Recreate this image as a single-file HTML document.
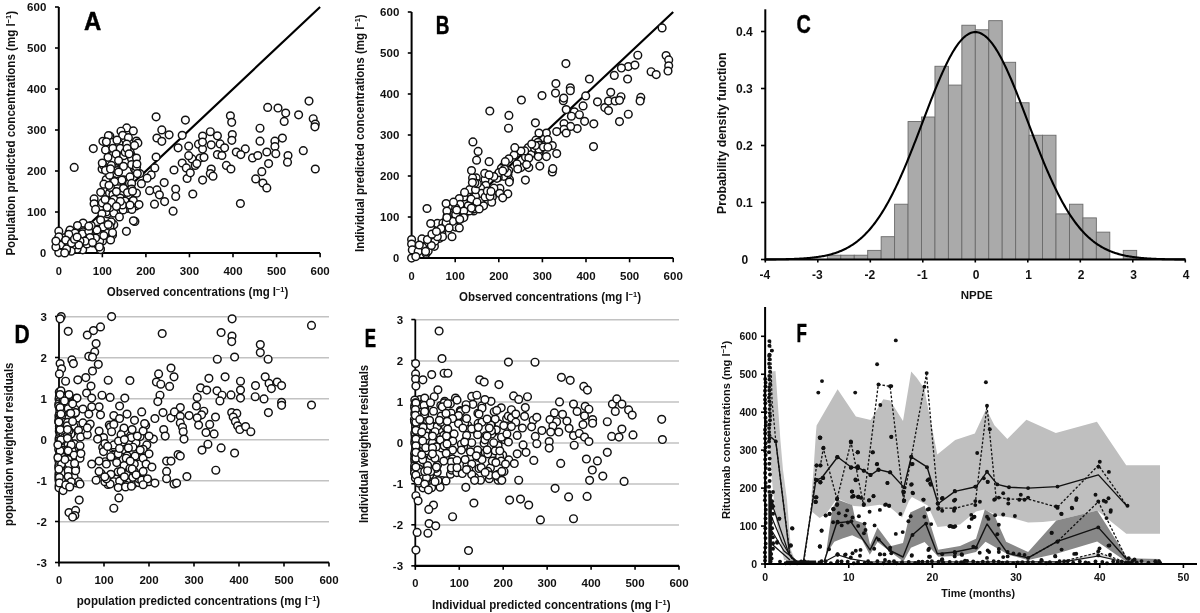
<!DOCTYPE html>
<html><head><meta charset="utf-8"><style>
html,body{margin:0;padding:0;background:#fff;}
svg{display:block;filter:blur(0.35px);}
text{font-family:"Liberation Sans",sans-serif;}
</style></head><body>
<svg width="1200" height="613" viewBox="0 0 1200 613">
<rect width="1200" height="613" fill="#fff"/>
<line x1="58.80" y1="7.00" x2="58.80" y2="253.75" stroke="#000" stroke-width="2.0" />
<line x1="58.05" y1="253.00" x2="320.10" y2="253.00" stroke="#000" stroke-width="2.0" />
<line x1="55.00" y1="253.00" x2="58.80" y2="253.00" stroke="#000" stroke-width="1.6" />
<text x="46.30" y="257.00" font-size="11.5" text-anchor="end" font-weight="bold" fill="#111" textLength="6.2" lengthAdjust="spacingAndGlyphs" >0</text>
<line x1="58.80" y1="253.00" x2="58.80" y2="257.30" stroke="#000" stroke-width="1.6" />
<text x="58.80" y="274.50" font-size="11.5" text-anchor="middle" font-weight="bold" fill="#111" textLength="6.2" lengthAdjust="spacingAndGlyphs" >0</text>
<line x1="55.00" y1="212.00" x2="58.80" y2="212.00" stroke="#000" stroke-width="1.6" />
<text x="46.30" y="216.00" font-size="11.5" text-anchor="end" font-weight="bold" fill="#111" textLength="19.2" lengthAdjust="spacingAndGlyphs" >100</text>
<line x1="102.35" y1="253.00" x2="102.35" y2="257.30" stroke="#000" stroke-width="1.6" />
<text x="102.35" y="274.50" font-size="11.5" text-anchor="middle" font-weight="bold" fill="#111" textLength="19.2" lengthAdjust="spacingAndGlyphs" >100</text>
<line x1="55.00" y1="171.00" x2="58.80" y2="171.00" stroke="#000" stroke-width="1.6" />
<text x="46.30" y="175.00" font-size="11.5" text-anchor="end" font-weight="bold" fill="#111" textLength="19.2" lengthAdjust="spacingAndGlyphs" >200</text>
<line x1="145.90" y1="253.00" x2="145.90" y2="257.30" stroke="#000" stroke-width="1.6" />
<text x="145.90" y="274.50" font-size="11.5" text-anchor="middle" font-weight="bold" fill="#111" textLength="19.2" lengthAdjust="spacingAndGlyphs" >200</text>
<line x1="55.00" y1="130.00" x2="58.80" y2="130.00" stroke="#000" stroke-width="1.6" />
<text x="46.30" y="134.00" font-size="11.5" text-anchor="end" font-weight="bold" fill="#111" textLength="19.2" lengthAdjust="spacingAndGlyphs" >300</text>
<line x1="189.45" y1="253.00" x2="189.45" y2="257.30" stroke="#000" stroke-width="1.6" />
<text x="189.45" y="274.50" font-size="11.5" text-anchor="middle" font-weight="bold" fill="#111" textLength="19.2" lengthAdjust="spacingAndGlyphs" >300</text>
<line x1="55.00" y1="89.00" x2="58.80" y2="89.00" stroke="#000" stroke-width="1.6" />
<text x="46.30" y="93.00" font-size="11.5" text-anchor="end" font-weight="bold" fill="#111" textLength="19.2" lengthAdjust="spacingAndGlyphs" >400</text>
<line x1="233.00" y1="253.00" x2="233.00" y2="257.30" stroke="#000" stroke-width="1.6" />
<text x="233.00" y="274.50" font-size="11.5" text-anchor="middle" font-weight="bold" fill="#111" textLength="19.2" lengthAdjust="spacingAndGlyphs" >400</text>
<line x1="55.00" y1="48.00" x2="58.80" y2="48.00" stroke="#000" stroke-width="1.6" />
<text x="46.30" y="52.00" font-size="11.5" text-anchor="end" font-weight="bold" fill="#111" textLength="19.2" lengthAdjust="spacingAndGlyphs" >500</text>
<line x1="276.55" y1="253.00" x2="276.55" y2="257.30" stroke="#000" stroke-width="1.6" />
<text x="276.55" y="274.50" font-size="11.5" text-anchor="middle" font-weight="bold" fill="#111" textLength="19.2" lengthAdjust="spacingAndGlyphs" >500</text>
<line x1="55.00" y1="7.00" x2="58.80" y2="7.00" stroke="#000" stroke-width="1.6" />
<text x="46.30" y="11.00" font-size="11.5" text-anchor="end" font-weight="bold" fill="#111" textLength="19.2" lengthAdjust="spacingAndGlyphs" >600</text>
<line x1="320.10" y1="253.00" x2="320.10" y2="257.30" stroke="#000" stroke-width="1.6" />
<text x="320.10" y="274.50" font-size="11.5" text-anchor="middle" font-weight="bold" fill="#111" textLength="19.2" lengthAdjust="spacingAndGlyphs" >600</text>
<text x="106.70" y="295.50" font-size="12.5" text-anchor="start" font-weight="bold" fill="#111" textLength="181.6" lengthAdjust="spacingAndGlyphs" >Observed concentrations (mg  l<tspan font-size="8" dy="-4">−1</tspan><tspan dy="4">)</tspan></text>
<text x="15.40" y="255.60" font-size="12.5" text-anchor="start" font-weight="bold" fill="#111" textLength="244.7" lengthAdjust="spacingAndGlyphs" transform="rotate(-90 15.40 255.60)" >Population  predicted  concentrations  (mg  l<tspan font-size="8" dy="-4">−1</tspan><tspan dy="4">)</tspan></text>
<line x1="411.60" y1="12.00" x2="411.60" y2="258.75" stroke="#000" stroke-width="2.0" />
<line x1="410.85" y1="258.00" x2="673.20" y2="258.00" stroke="#000" stroke-width="2.0" />
<line x1="407.80" y1="258.00" x2="411.60" y2="258.00" stroke="#000" stroke-width="1.6" />
<text x="399.30" y="262.00" font-size="11.5" text-anchor="end" font-weight="bold" fill="#111" textLength="6.2" lengthAdjust="spacingAndGlyphs" >0</text>
<line x1="411.60" y1="258.00" x2="411.60" y2="262.30" stroke="#000" stroke-width="1.6" />
<text x="411.60" y="279.50" font-size="11.5" text-anchor="middle" font-weight="bold" fill="#111" textLength="6.2" lengthAdjust="spacingAndGlyphs" >0</text>
<line x1="407.80" y1="217.00" x2="411.60" y2="217.00" stroke="#000" stroke-width="1.6" />
<text x="399.30" y="221.00" font-size="11.5" text-anchor="end" font-weight="bold" fill="#111" textLength="19.2" lengthAdjust="spacingAndGlyphs" >100</text>
<line x1="455.20" y1="258.00" x2="455.20" y2="262.30" stroke="#000" stroke-width="1.6" />
<text x="455.20" y="279.50" font-size="11.5" text-anchor="middle" font-weight="bold" fill="#111" textLength="19.2" lengthAdjust="spacingAndGlyphs" >100</text>
<line x1="407.80" y1="176.00" x2="411.60" y2="176.00" stroke="#000" stroke-width="1.6" />
<text x="399.30" y="180.00" font-size="11.5" text-anchor="end" font-weight="bold" fill="#111" textLength="19.2" lengthAdjust="spacingAndGlyphs" >200</text>
<line x1="498.80" y1="258.00" x2="498.80" y2="262.30" stroke="#000" stroke-width="1.6" />
<text x="498.80" y="279.50" font-size="11.5" text-anchor="middle" font-weight="bold" fill="#111" textLength="19.2" lengthAdjust="spacingAndGlyphs" >200</text>
<line x1="407.80" y1="135.00" x2="411.60" y2="135.00" stroke="#000" stroke-width="1.6" />
<text x="399.30" y="139.00" font-size="11.5" text-anchor="end" font-weight="bold" fill="#111" textLength="19.2" lengthAdjust="spacingAndGlyphs" >300</text>
<line x1="542.40" y1="258.00" x2="542.40" y2="262.30" stroke="#000" stroke-width="1.6" />
<text x="542.40" y="279.50" font-size="11.5" text-anchor="middle" font-weight="bold" fill="#111" textLength="19.2" lengthAdjust="spacingAndGlyphs" >300</text>
<line x1="407.80" y1="94.00" x2="411.60" y2="94.00" stroke="#000" stroke-width="1.6" />
<text x="399.30" y="98.00" font-size="11.5" text-anchor="end" font-weight="bold" fill="#111" textLength="19.2" lengthAdjust="spacingAndGlyphs" >400</text>
<line x1="586.00" y1="258.00" x2="586.00" y2="262.30" stroke="#000" stroke-width="1.6" />
<text x="586.00" y="279.50" font-size="11.5" text-anchor="middle" font-weight="bold" fill="#111" textLength="19.2" lengthAdjust="spacingAndGlyphs" >400</text>
<line x1="407.80" y1="53.00" x2="411.60" y2="53.00" stroke="#000" stroke-width="1.6" />
<text x="399.30" y="57.00" font-size="11.5" text-anchor="end" font-weight="bold" fill="#111" textLength="19.2" lengthAdjust="spacingAndGlyphs" >500</text>
<line x1="629.60" y1="258.00" x2="629.60" y2="262.30" stroke="#000" stroke-width="1.6" />
<text x="629.60" y="279.50" font-size="11.5" text-anchor="middle" font-weight="bold" fill="#111" textLength="19.2" lengthAdjust="spacingAndGlyphs" >500</text>
<line x1="407.80" y1="12.00" x2="411.60" y2="12.00" stroke="#000" stroke-width="1.6" />
<text x="399.30" y="16.00" font-size="11.5" text-anchor="end" font-weight="bold" fill="#111" textLength="19.2" lengthAdjust="spacingAndGlyphs" >600</text>
<line x1="673.20" y1="258.00" x2="673.20" y2="262.30" stroke="#000" stroke-width="1.6" />
<text x="673.20" y="279.50" font-size="11.5" text-anchor="middle" font-weight="bold" fill="#111" textLength="19.2" lengthAdjust="spacingAndGlyphs" >600</text>
<text x="459.00" y="300.50" font-size="12.5" text-anchor="start" font-weight="bold" fill="#111" textLength="182.0" lengthAdjust="spacingAndGlyphs" >Observed concentrations (mg  l<tspan font-size="8" dy="-4">−1</tspan><tspan dy="4">)</tspan></text>
<text x="363.70" y="252.00" font-size="12.5" text-anchor="start" font-weight="bold" fill="#111" textLength="237.7" lengthAdjust="spacingAndGlyphs" transform="rotate(-90 363.70 252.00)" >Individual  predicted concentrations  (mg  l<tspan font-size="8" dy="-4">−1</tspan><tspan dy="4">)</tspan></text>
<rect x="827.35" y="255.22" width="13.45" height="4.28" fill="#aaaaaa" stroke="#6a6a6a" stroke-width="0.9"/>
<rect x="840.80" y="255.22" width="13.45" height="4.28" fill="#aaaaaa" stroke="#6a6a6a" stroke-width="0.9"/>
<rect x="854.25" y="255.22" width="13.45" height="4.28" fill="#aaaaaa" stroke="#6a6a6a" stroke-width="0.9"/>
<rect x="867.70" y="250.38" width="13.45" height="9.12" fill="#aaaaaa" stroke="#6a6a6a" stroke-width="0.9"/>
<rect x="881.15" y="236.70" width="13.45" height="22.80" fill="#aaaaaa" stroke="#6a6a6a" stroke-width="0.9"/>
<rect x="894.60" y="204.21" width="13.45" height="55.29" fill="#aaaaaa" stroke="#6a6a6a" stroke-width="0.9"/>
<rect x="908.05" y="121.56" width="13.45" height="137.94" fill="#aaaaaa" stroke="#6a6a6a" stroke-width="0.9"/>
<rect x="921.50" y="117.00" width="13.45" height="142.50" fill="#aaaaaa" stroke="#6a6a6a" stroke-width="0.9"/>
<rect x="934.95" y="66.27" width="13.45" height="193.23" fill="#aaaaaa" stroke="#6a6a6a" stroke-width="0.9"/>
<rect x="948.40" y="85.08" width="13.45" height="174.42" fill="#aaaaaa" stroke="#6a6a6a" stroke-width="0.9"/>
<rect x="961.85" y="25.23" width="13.45" height="234.27" fill="#aaaaaa" stroke="#6a6a6a" stroke-width="0.9"/>
<rect x="975.30" y="29.79" width="13.45" height="229.71" fill="#aaaaaa" stroke="#6a6a6a" stroke-width="0.9"/>
<rect x="988.75" y="20.67" width="13.45" height="238.83" fill="#aaaaaa" stroke="#6a6a6a" stroke-width="0.9"/>
<rect x="1002.20" y="62.28" width="13.45" height="197.22" fill="#aaaaaa" stroke="#6a6a6a" stroke-width="0.9"/>
<rect x="1015.65" y="102.75" width="13.45" height="156.75" fill="#aaaaaa" stroke="#6a6a6a" stroke-width="0.9"/>
<rect x="1029.10" y="135.24" width="13.45" height="124.26" fill="#aaaaaa" stroke="#6a6a6a" stroke-width="0.9"/>
<rect x="1042.55" y="135.24" width="13.45" height="124.26" fill="#aaaaaa" stroke="#6a6a6a" stroke-width="0.9"/>
<rect x="1056.00" y="213.90" width="13.45" height="45.60" fill="#aaaaaa" stroke="#6a6a6a" stroke-width="0.9"/>
<rect x="1069.45" y="204.21" width="13.45" height="55.29" fill="#aaaaaa" stroke="#6a6a6a" stroke-width="0.9"/>
<rect x="1082.90" y="217.89" width="13.45" height="41.61" fill="#aaaaaa" stroke="#6a6a6a" stroke-width="0.9"/>
<rect x="1096.35" y="232.14" width="13.45" height="27.36" fill="#aaaaaa" stroke="#6a6a6a" stroke-width="0.9"/>
<rect x="1123.25" y="250.38" width="13.45" height="9.12" fill="#aaaaaa" stroke="#6a6a6a" stroke-width="0.9"/>
<polyline points="765.30,259.42 766.35,259.42 767.40,259.41 768.45,259.40 769.50,259.40 770.55,259.39 771.60,259.38 772.65,259.37 773.70,259.36 774.75,259.35 775.80,259.33 776.85,259.32 777.90,259.31 778.95,259.29 780.00,259.28 781.05,259.26 782.10,259.24 783.15,259.22 784.20,259.20 785.25,259.18 786.30,259.15 787.35,259.13 788.40,259.10 789.45,259.07 790.50,259.04 791.55,259.00 792.60,258.97 793.65,258.93 794.70,258.89 795.75,258.84 796.80,258.80 797.85,258.75 798.90,258.70 799.95,258.64 801.00,258.58 802.05,258.52 803.10,258.45 804.15,258.38 805.20,258.31 806.25,258.23 807.30,258.14 808.35,258.05 809.40,257.96 810.45,257.86 811.50,257.75 812.55,257.64 813.60,257.52 814.65,257.39 815.70,257.26 816.75,257.12 817.80,256.97 818.85,256.82 819.90,256.65 820.95,256.48 822.00,256.30 823.05,256.11 824.10,255.91 825.15,255.69 826.20,255.47 827.25,255.23 828.30,254.99 829.35,254.73 830.40,254.46 831.45,254.17 832.50,253.87 833.55,253.56 834.60,253.23 835.65,252.89 836.70,252.53 837.75,252.15 838.80,251.76 839.85,251.35 840.90,250.92 841.95,250.47 843.00,250.00 844.05,249.51 845.10,249.00 846.15,248.47 847.20,247.91 848.25,247.34 849.30,246.74 850.35,246.11 851.40,245.46 852.45,244.78 853.50,244.08 854.55,243.35 855.60,242.60 856.65,241.81 857.70,241.00 858.75,240.15 859.80,239.28 860.85,238.37 861.90,237.44 862.95,236.47 864.00,235.47 865.05,234.43 866.10,233.36 867.15,232.25 868.20,231.11 869.25,229.94 870.30,228.73 871.35,227.48 872.40,226.19 873.45,224.86 874.50,223.50 875.55,222.10 876.60,220.66 877.65,219.18 878.70,217.66 879.75,216.10 880.80,214.50 881.85,212.86 882.90,211.18 883.95,209.46 885.00,207.69 886.05,205.89 887.10,204.05 888.15,202.17 889.20,200.24 890.25,198.28 891.30,196.28 892.35,194.23 893.40,192.15 894.45,190.03 895.50,187.87 896.55,185.67 897.60,183.44 898.65,181.17 899.70,178.87 900.75,176.53 901.80,174.16 902.85,171.75 903.90,169.31 904.95,166.84 906.00,164.35 907.05,161.82 908.10,159.27 909.15,156.69 910.20,154.09 911.25,151.46 912.30,148.81 913.35,146.15 914.40,143.46 915.45,140.76 916.50,138.05 917.55,135.32 918.60,132.59 919.65,129.84 920.70,127.09 921.75,124.33 922.80,121.58 923.85,118.82 924.90,116.06 925.95,113.31 927.00,110.57 928.05,107.83 929.10,105.11 930.15,102.40 931.20,99.70 932.25,97.03 933.30,94.38 934.35,91.75 935.40,89.14 936.45,86.57 937.50,84.02 938.55,81.52 939.60,79.04 940.65,76.61 941.70,74.21 942.75,71.87 943.80,69.56 944.85,67.31 945.90,65.10 946.95,62.95 948.00,60.86 949.05,58.82 950.10,56.85 951.15,54.93 952.20,53.08 953.25,51.30 954.30,49.59 955.35,47.94 956.40,46.37 957.45,44.87 958.50,43.45 959.55,42.11 960.60,40.84 961.65,39.66 962.70,38.56 963.75,37.54 964.80,36.61 965.85,35.76 966.90,35.00 967.95,34.32 969.00,33.73 970.05,33.24 971.10,32.83 972.15,32.51 973.20,32.28 974.25,32.15 975.30,32.10 976.35,32.15 977.40,32.28 978.45,32.51 979.50,32.83 980.55,33.24 981.60,33.73 982.65,34.32 983.70,35.00 984.75,35.76 985.80,36.61 986.85,37.54 987.90,38.56 988.95,39.66 990.00,40.84 991.05,42.11 992.10,43.45 993.15,44.87 994.20,46.37 995.25,47.94 996.30,49.59 997.35,51.30 998.40,53.08 999.45,54.93 1000.50,56.85 1001.55,58.82 1002.60,60.86 1003.65,62.95 1004.70,65.10 1005.75,67.31 1006.80,69.56 1007.85,71.87 1008.90,74.21 1009.95,76.61 1011.00,79.04 1012.05,81.52 1013.10,84.02 1014.15,86.57 1015.20,89.14 1016.25,91.75 1017.30,94.38 1018.35,97.03 1019.40,99.70 1020.45,102.40 1021.50,105.11 1022.55,107.83 1023.60,110.57 1024.65,113.31 1025.70,116.06 1026.75,118.82 1027.80,121.58 1028.85,124.33 1029.90,127.09 1030.95,129.84 1032.00,132.59 1033.05,135.32 1034.10,138.05 1035.15,140.76 1036.20,143.46 1037.25,146.15 1038.30,148.81 1039.35,151.46 1040.40,154.09 1041.45,156.69 1042.50,159.27 1043.55,161.82 1044.60,164.35 1045.65,166.84 1046.70,169.31 1047.75,171.75 1048.80,174.16 1049.85,176.53 1050.90,178.87 1051.95,181.17 1053.00,183.44 1054.05,185.67 1055.10,187.87 1056.15,190.03 1057.20,192.15 1058.25,194.23 1059.30,196.28 1060.35,198.28 1061.40,200.24 1062.45,202.17 1063.50,204.05 1064.55,205.89 1065.60,207.69 1066.65,209.46 1067.70,211.18 1068.75,212.86 1069.80,214.50 1070.85,216.10 1071.90,217.66 1072.95,219.18 1074.00,220.66 1075.05,222.10 1076.10,223.50 1077.15,224.86 1078.20,226.19 1079.25,227.48 1080.30,228.73 1081.35,229.94 1082.40,231.11 1083.45,232.25 1084.50,233.36 1085.55,234.43 1086.60,235.47 1087.65,236.47 1088.70,237.44 1089.75,238.37 1090.80,239.28 1091.85,240.15 1092.90,241.00 1093.95,241.81 1095.00,242.60 1096.05,243.35 1097.10,244.08 1098.15,244.78 1099.20,245.46 1100.25,246.11 1101.30,246.74 1102.35,247.34 1103.40,247.91 1104.45,248.47 1105.50,249.00 1106.55,249.51 1107.60,250.00 1108.65,250.47 1109.70,250.92 1110.75,251.35 1111.80,251.76 1112.85,252.15 1113.90,252.53 1114.95,252.89 1116.00,253.23 1117.05,253.56 1118.10,253.87 1119.15,254.17 1120.20,254.46 1121.25,254.73 1122.30,254.99 1123.35,255.23 1124.40,255.47 1125.45,255.69 1126.50,255.91 1127.55,256.11 1128.60,256.30 1129.65,256.48 1130.70,256.65 1131.75,256.82 1132.80,256.97 1133.85,257.12 1134.90,257.26 1135.95,257.39 1137.00,257.52 1138.05,257.64 1139.10,257.75 1140.15,257.86 1141.20,257.96 1142.25,258.05 1143.30,258.14 1144.35,258.23 1145.40,258.31 1146.45,258.38 1147.50,258.45 1148.55,258.52 1149.60,258.58 1150.65,258.64 1151.70,258.70 1152.75,258.75 1153.80,258.80 1154.85,258.84 1155.90,258.89 1156.95,258.93 1158.00,258.97 1159.05,259.00 1160.10,259.04 1161.15,259.07 1162.20,259.10 1163.25,259.13 1164.30,259.15 1165.35,259.18 1166.40,259.20 1167.45,259.22 1168.50,259.24 1169.55,259.26 1170.60,259.28 1171.65,259.29 1172.70,259.31 1173.75,259.32 1174.80,259.33 1175.85,259.35 1176.90,259.36 1177.95,259.37 1179.00,259.38 1180.05,259.39 1181.10,259.40 1182.15,259.40 1183.20,259.41 1184.25,259.42 1185.30,259.42" fill="none" stroke="#000" stroke-width="2.1"/>
<line x1="765.30" y1="9.30" x2="765.30" y2="260.30" stroke="#000" stroke-width="2.0" />
<line x1="764.50" y1="259.50" x2="1185.50" y2="259.50" stroke="#000" stroke-width="2.2" />
<line x1="761.00" y1="259.50" x2="765.30" y2="259.50" stroke="#000" stroke-width="1.6" />
<text x="748.20" y="263.80" font-size="12" text-anchor="end" font-weight="bold" fill="#111" >0</text>
<line x1="761.00" y1="202.50" x2="765.30" y2="202.50" stroke="#000" stroke-width="1.6" />
<text x="752.80" y="206.80" font-size="12" text-anchor="end" font-weight="bold" fill="#111" >0.1</text>
<line x1="761.00" y1="145.50" x2="765.30" y2="145.50" stroke="#000" stroke-width="1.6" />
<text x="752.80" y="149.80" font-size="12" text-anchor="end" font-weight="bold" fill="#111" >0.2</text>
<line x1="761.00" y1="88.50" x2="765.30" y2="88.50" stroke="#000" stroke-width="1.6" />
<text x="752.80" y="92.80" font-size="12" text-anchor="end" font-weight="bold" fill="#111" >0.3</text>
<line x1="761.00" y1="31.50" x2="765.30" y2="31.50" stroke="#000" stroke-width="1.6" />
<text x="752.80" y="35.80" font-size="12" text-anchor="end" font-weight="bold" fill="#111" >0.4</text>
<line x1="765.30" y1="259.50" x2="765.30" y2="262.50" stroke="#000" stroke-width="1.6" />
<text x="764.80" y="279.30" font-size="12" text-anchor="middle" font-weight="bold" fill="#111" >-4</text>
<line x1="817.80" y1="259.50" x2="817.80" y2="262.50" stroke="#000" stroke-width="1.6" />
<text x="817.30" y="279.30" font-size="12" text-anchor="middle" font-weight="bold" fill="#111" >-3</text>
<line x1="870.30" y1="259.50" x2="870.30" y2="262.50" stroke="#000" stroke-width="1.6" />
<text x="869.80" y="279.30" font-size="12" text-anchor="middle" font-weight="bold" fill="#111" >-2</text>
<line x1="922.80" y1="259.50" x2="922.80" y2="262.50" stroke="#000" stroke-width="1.6" />
<text x="922.30" y="279.30" font-size="12" text-anchor="middle" font-weight="bold" fill="#111" >-1</text>
<line x1="975.30" y1="259.50" x2="975.30" y2="262.50" stroke="#000" stroke-width="1.6" />
<text x="976.10" y="279.30" font-size="12" text-anchor="middle" font-weight="bold" fill="#111" >0</text>
<line x1="1027.80" y1="259.50" x2="1027.80" y2="262.50" stroke="#000" stroke-width="1.6" />
<text x="1028.60" y="279.30" font-size="12" text-anchor="middle" font-weight="bold" fill="#111" >1</text>
<line x1="1080.30" y1="259.50" x2="1080.30" y2="262.50" stroke="#000" stroke-width="1.6" />
<text x="1081.10" y="279.30" font-size="12" text-anchor="middle" font-weight="bold" fill="#111" >2</text>
<line x1="1132.80" y1="259.50" x2="1132.80" y2="262.50" stroke="#000" stroke-width="1.6" />
<text x="1133.60" y="279.30" font-size="12" text-anchor="middle" font-weight="bold" fill="#111" >3</text>
<line x1="1185.30" y1="259.50" x2="1185.30" y2="262.50" stroke="#000" stroke-width="1.6" />
<text x="1186.10" y="279.30" font-size="12" text-anchor="middle" font-weight="bold" fill="#111" >4</text>
<text x="976.70" y="298.70" font-size="11.5" text-anchor="middle" font-weight="bold" fill="#111" >NPDE</text>
<text x="726.50" y="213.90" font-size="12.5" text-anchor="start" font-weight="bold" fill="#111" textLength="161.3" lengthAdjust="spacingAndGlyphs" transform="rotate(-90 726.50 213.90)" >Probability  density  function</text>
<line x1="59.00" y1="521.80" x2="329.00" y2="521.80" stroke="#c2c2c2" stroke-width="1.5" />
<line x1="59.00" y1="480.80" x2="329.00" y2="480.80" stroke="#c2c2c2" stroke-width="1.5" />
<line x1="59.00" y1="439.80" x2="329.00" y2="439.80" stroke="#c2c2c2" stroke-width="1.5" />
<line x1="59.00" y1="398.80" x2="329.00" y2="398.80" stroke="#c2c2c2" stroke-width="1.5" />
<line x1="59.00" y1="357.80" x2="329.00" y2="357.80" stroke="#c2c2c2" stroke-width="1.5" />
<line x1="59.00" y1="316.80" x2="329.00" y2="316.80" stroke="#c2c2c2" stroke-width="1.5" />
<line x1="59.00" y1="316.50" x2="59.00" y2="563.30" stroke="#000" stroke-width="1.8" />
<line x1="58.20" y1="562.50" x2="329.00" y2="562.50" stroke="#000" stroke-width="2.2" />
<line x1="55.00" y1="562.50" x2="59.00" y2="562.50" stroke="#000" stroke-width="1.6" />
<text x="46.80" y="566.70" font-size="11.5" text-anchor="end" font-weight="bold" fill="#111" >-3</text>
<line x1="55.00" y1="521.50" x2="59.00" y2="521.50" stroke="#000" stroke-width="1.6" />
<text x="46.80" y="525.70" font-size="11.5" text-anchor="end" font-weight="bold" fill="#111" >-2</text>
<line x1="55.00" y1="480.50" x2="59.00" y2="480.50" stroke="#000" stroke-width="1.6" />
<text x="46.80" y="484.70" font-size="11.5" text-anchor="end" font-weight="bold" fill="#111" >-1</text>
<line x1="55.00" y1="439.50" x2="59.00" y2="439.50" stroke="#000" stroke-width="1.6" />
<text x="46.80" y="443.70" font-size="11.5" text-anchor="end" font-weight="bold" fill="#111" >0</text>
<line x1="55.00" y1="398.50" x2="59.00" y2="398.50" stroke="#000" stroke-width="1.6" />
<text x="46.80" y="402.70" font-size="11.5" text-anchor="end" font-weight="bold" fill="#111" >1</text>
<line x1="55.00" y1="357.50" x2="59.00" y2="357.50" stroke="#000" stroke-width="1.6" />
<text x="46.80" y="361.70" font-size="11.5" text-anchor="end" font-weight="bold" fill="#111" >2</text>
<line x1="55.00" y1="316.50" x2="59.00" y2="316.50" stroke="#000" stroke-width="1.6" />
<text x="46.80" y="320.70" font-size="11.5" text-anchor="end" font-weight="bold" fill="#111" >3</text>
<line x1="59.00" y1="562.50" x2="59.00" y2="566.50" stroke="#000" stroke-width="1.6" />
<text x="59.00" y="583.50" font-size="11.5" text-anchor="middle" font-weight="bold" fill="#111" textLength="6.2" lengthAdjust="spacingAndGlyphs" >0</text>
<line x1="104.00" y1="562.50" x2="104.00" y2="566.50" stroke="#000" stroke-width="1.6" />
<text x="104.00" y="583.50" font-size="11.5" text-anchor="middle" font-weight="bold" fill="#111" textLength="19.2" lengthAdjust="spacingAndGlyphs" >100</text>
<line x1="149.00" y1="562.50" x2="149.00" y2="566.50" stroke="#000" stroke-width="1.6" />
<text x="149.00" y="583.50" font-size="11.5" text-anchor="middle" font-weight="bold" fill="#111" textLength="19.2" lengthAdjust="spacingAndGlyphs" >200</text>
<line x1="194.00" y1="562.50" x2="194.00" y2="566.50" stroke="#000" stroke-width="1.6" />
<text x="194.00" y="583.50" font-size="11.5" text-anchor="middle" font-weight="bold" fill="#111" textLength="19.2" lengthAdjust="spacingAndGlyphs" >300</text>
<line x1="239.00" y1="562.50" x2="239.00" y2="566.50" stroke="#000" stroke-width="1.6" />
<text x="239.00" y="583.50" font-size="11.5" text-anchor="middle" font-weight="bold" fill="#111" textLength="19.2" lengthAdjust="spacingAndGlyphs" >400</text>
<line x1="284.00" y1="562.50" x2="284.00" y2="566.50" stroke="#000" stroke-width="1.6" />
<text x="284.00" y="583.50" font-size="11.5" text-anchor="middle" font-weight="bold" fill="#111" textLength="19.2" lengthAdjust="spacingAndGlyphs" >500</text>
<line x1="329.00" y1="562.50" x2="329.00" y2="566.50" stroke="#000" stroke-width="1.6" />
<text x="329.00" y="583.50" font-size="11.5" text-anchor="middle" font-weight="bold" fill="#111" textLength="19.2" lengthAdjust="spacingAndGlyphs" >600</text>
<text x="76.80" y="605.00" font-size="12.5" text-anchor="start" font-weight="bold" fill="#111" textLength="243.4" lengthAdjust="spacingAndGlyphs" >population  predicted  concentrations  (mg  l<tspan font-size="8" dy="-4">−1</tspan><tspan dy="4">)</tspan></text>
<text x="12.80" y="525.90" font-size="12.5" text-anchor="start" font-weight="bold" fill="#111" textLength="163.3" lengthAdjust="spacingAndGlyphs" transform="rotate(-90 12.80 525.90)" >population  weighted  residuals</text>
<line x1="415.30" y1="525.10" x2="679.00" y2="525.10" stroke="#c2c2c2" stroke-width="1.5" />
<line x1="415.30" y1="484.05" x2="679.00" y2="484.05" stroke="#c2c2c2" stroke-width="1.5" />
<line x1="415.30" y1="443.00" x2="679.00" y2="443.00" stroke="#c2c2c2" stroke-width="1.5" />
<line x1="415.30" y1="401.95" x2="679.00" y2="401.95" stroke="#c2c2c2" stroke-width="1.5" />
<line x1="415.30" y1="360.90" x2="679.00" y2="360.90" stroke="#c2c2c2" stroke-width="1.5" />
<line x1="415.30" y1="319.85" x2="679.00" y2="319.85" stroke="#c2c2c2" stroke-width="1.5" />
<line x1="415.30" y1="319.55" x2="415.30" y2="566.65" stroke="#000" stroke-width="1.8" />
<line x1="414.50" y1="565.85" x2="679.00" y2="565.85" stroke="#000" stroke-width="2.2" />
<line x1="411.30" y1="565.85" x2="415.30" y2="565.85" stroke="#000" stroke-width="1.6" />
<text x="403.10" y="570.05" font-size="11.5" text-anchor="end" font-weight="bold" fill="#111" >-3</text>
<line x1="411.30" y1="524.80" x2="415.30" y2="524.80" stroke="#000" stroke-width="1.6" />
<text x="403.10" y="529.00" font-size="11.5" text-anchor="end" font-weight="bold" fill="#111" >-2</text>
<line x1="411.30" y1="483.75" x2="415.30" y2="483.75" stroke="#000" stroke-width="1.6" />
<text x="403.10" y="487.95" font-size="11.5" text-anchor="end" font-weight="bold" fill="#111" >-1</text>
<line x1="411.30" y1="442.70" x2="415.30" y2="442.70" stroke="#000" stroke-width="1.6" />
<text x="403.10" y="446.90" font-size="11.5" text-anchor="end" font-weight="bold" fill="#111" >0</text>
<line x1="411.30" y1="401.65" x2="415.30" y2="401.65" stroke="#000" stroke-width="1.6" />
<text x="403.10" y="405.85" font-size="11.5" text-anchor="end" font-weight="bold" fill="#111" >1</text>
<line x1="411.30" y1="360.60" x2="415.30" y2="360.60" stroke="#000" stroke-width="1.6" />
<text x="403.10" y="364.80" font-size="11.5" text-anchor="end" font-weight="bold" fill="#111" >2</text>
<line x1="411.30" y1="319.55" x2="415.30" y2="319.55" stroke="#000" stroke-width="1.6" />
<text x="403.10" y="323.75" font-size="11.5" text-anchor="end" font-weight="bold" fill="#111" >3</text>
<line x1="415.30" y1="565.85" x2="415.30" y2="569.85" stroke="#000" stroke-width="1.6" />
<text x="415.30" y="587.00" font-size="11.5" text-anchor="middle" font-weight="bold" fill="#111" textLength="6.2" lengthAdjust="spacingAndGlyphs" >0</text>
<line x1="459.25" y1="565.85" x2="459.25" y2="569.85" stroke="#000" stroke-width="1.6" />
<text x="459.25" y="587.00" font-size="11.5" text-anchor="middle" font-weight="bold" fill="#111" textLength="19.2" lengthAdjust="spacingAndGlyphs" >100</text>
<line x1="503.20" y1="565.85" x2="503.20" y2="569.85" stroke="#000" stroke-width="1.6" />
<text x="503.20" y="587.00" font-size="11.5" text-anchor="middle" font-weight="bold" fill="#111" textLength="19.2" lengthAdjust="spacingAndGlyphs" >200</text>
<line x1="547.15" y1="565.85" x2="547.15" y2="569.85" stroke="#000" stroke-width="1.6" />
<text x="547.15" y="587.00" font-size="11.5" text-anchor="middle" font-weight="bold" fill="#111" textLength="19.2" lengthAdjust="spacingAndGlyphs" >300</text>
<line x1="591.10" y1="565.85" x2="591.10" y2="569.85" stroke="#000" stroke-width="1.6" />
<text x="591.10" y="587.00" font-size="11.5" text-anchor="middle" font-weight="bold" fill="#111" textLength="19.2" lengthAdjust="spacingAndGlyphs" >400</text>
<line x1="635.05" y1="565.85" x2="635.05" y2="569.85" stroke="#000" stroke-width="1.6" />
<text x="635.05" y="587.00" font-size="11.5" text-anchor="middle" font-weight="bold" fill="#111" textLength="19.2" lengthAdjust="spacingAndGlyphs" >500</text>
<line x1="679.00" y1="565.85" x2="679.00" y2="569.85" stroke="#000" stroke-width="1.6" />
<text x="679.00" y="587.00" font-size="11.5" text-anchor="middle" font-weight="bold" fill="#111" textLength="19.2" lengthAdjust="spacingAndGlyphs" >600</text>
<text x="432.00" y="608.80" font-size="12.5" text-anchor="start" font-weight="bold" fill="#111" textLength="238.5" lengthAdjust="spacingAndGlyphs" >Individual  predicted  concentrations  (mg  l<tspan font-size="8" dy="-4">−1</tspan><tspan dy="4">)</tspan></text>
<text x="367.70" y="523.10" font-size="12.5" text-anchor="start" font-weight="bold" fill="#111" textLength="158.2" lengthAdjust="spacingAndGlyphs" transform="rotate(-90 367.70 523.10)" >Individual  weighted  residuals</text>
<polygon points="812.0,512.0 811.5,495.0 813.5,470.0 816.0,432.0 816.6,425.6 837.6,389.3 855.9,416.4 870.7,419.9 883.3,399.3 890.1,400.5 903.0,421.1 911.2,371.4 916.9,377.9 924.2,388.5 937.3,454.6 955.2,439.9 974.8,433.4 986.2,408.9 994.4,425.2 1007.3,438.9 1026.4,419.8 1055.8,433.0 1096.9,421.7 1126.2,465.3 1160.0,465.3 1160.0,533.8 1126.3,533.8 1097.2,510.5 1056.3,520.4 1042.8,521.9 1028.1,522.6 1010.5,517.5 998.8,516.0 984.1,509.4 976.0,511.6 960.0,524.4 947.3,526.0 937.5,527.1 927.7,505.5 911.9,497.0 908.9,500.9 902.1,517.5 889.4,506.8 879.6,504.8 865.3,506.7 853.8,505.9 837.5,498.5 834.3,502.6 826.1,514.0 819.6,518.1 813.0,512.4" fill="#bfbfbf" />
<polygon points="769.0,372.0 775.5,371.0 780.4,440.0 783.0,470.0 787.0,500.0 791.0,550.0 795.0,560.0 784.0,560.0 776.0,520.0 772.0,480.0 769.0,440.0" fill="#c4c4c4" />
<polygon points="825.3,558.1 832.6,507.5 837.5,499.4 852.2,505.1 855.5,520.6 865.3,523.8 870.1,545.0 877.5,527.5 891.3,545.9 903.0,543.0 910.2,512.5 924.6,505.8 938.3,549.8 960.0,545.9 976.0,538.8 984.8,509.4 994.3,515.3 1006.1,541.7 1028.1,552.0 1056.3,520.4 1097.2,510.5 1127.5,558.3 1159.6,558.9 1159.6,563.0 1127.5,562.4 1097.2,541.4 1056.3,553.7 1028.1,560.0 1009.0,554.9 985.5,541.7 976.0,552.0 960.0,555.7 938.3,556.7 924.6,542.0 910.9,547.8 903.4,561.5 891.3,552.5 877.6,542.0 869.8,554.7 862.0,540.1 852.2,535.3 842.4,538.5 834.3,541.8 826.9,553.2" fill="#888888" />
<polygon points="1063.3,560.7 1097.2,552.5 1124.0,561.8 1097.2,557.0 1063.3,563.0" fill="#d4d4d4" />
<polyline points="771.0,437.0 775.8,441.4 783.0,500.0 789.7,555.0 796.0,562.5 803.3,562.5 815.9,480.2 821.6,478.0 837.6,457.0 851.3,467.2 858.2,467.7 863.7,470.7 870.8,475.0 878.6,469.6 890.3,472.5 903.9,487.4 911.3,456.8 927.2,467.2 938.1,503.8 955.0,491.4 975.9,486.8 987.0,471.8 997.3,484.4 1009.0,487.3 1028.1,488.1 1057.5,486.6 1098.4,474.9 1127.4,506.6" fill="none" stroke="#111" stroke-width="1.4" stroke-linejoin="round"/>
<polyline points="804.0,561.0 812.5,500.0 816.5,465.5 820.4,465.5 823.3,448.3 837.0,499.2 851.0,442.0 863.3,504.0 878.3,384.5 890.1,386.3 903.5,500.0 926.5,374.0 938.7,508.0 955.0,508.3 975.3,503.1 987.0,405.7 996.0,497.0 1009.0,499.1 1028.1,499.1 1057.5,507.2 1098.5,465.2 1127.4,506.6" fill="none" stroke="#111" stroke-width="1.3" stroke-linejoin="round" stroke-dasharray="2.5,1.8"/>
<polyline points="824.5,560.5 836.7,523.0 850.6,521.4 870.1,549.9 876.7,536.9 888.9,549.9 903.0,557.0 911.3,536.1 925.6,523.4 937.3,553.7 955.0,552.0 976.0,547.6 987.0,524.0 1007.6,553.4 1028.1,557.9 1057.5,541.4 1098.3,527.4 1126.9,559.5" fill="none" stroke="#111" stroke-width="1.4" stroke-linejoin="round"/>
<polyline points="1028.1,557.9 1057.5,541.4 1098.3,501.8 1126.9,559.5" fill="none" stroke="#111" stroke-width="1.3" stroke-linejoin="round" stroke-dasharray="2.5,1.8"/>
<polyline points="824.0,562.0 837.5,554.8 850.6,558.9 870.0,562.0 1063.3,561.8 1098.3,556.0 1124.0,562.0" fill="none" stroke="#111" stroke-width="1.2" stroke-linejoin="round"/>
<polyline points="1063.3,561.2 1098.3,552.5 1124.0,561.5" fill="none" stroke="#111" stroke-width="1.2" stroke-linejoin="round" stroke-dasharray="2.5,1.8"/>
<polyline points="769.5,496.0 780.0,528.0 789.0,554.0 796.0,562.0" fill="none" stroke="#111" stroke-width="1.2" stroke-linejoin="round"/>
<polyline points="769.5,512.0 782.0,542.0 792.0,559.0" fill="none" stroke="#111" stroke-width="1.2" stroke-linejoin="round"/>
<polyline points="769.5,527.0 784.0,551.0 798.0,562.0" fill="none" stroke="#111" stroke-width="1.2" stroke-linejoin="round"/>
<polyline points="769.5,542.0 790.0,560.0" fill="none" stroke="#111" stroke-width="1.2" stroke-linejoin="round"/>
<polyline points="770.5,341.0 772.0,400.0 775.8,441.4 783.0,500.0 790.0,554.0 796.0,562.0" fill="none" stroke="#111" stroke-width="1.2" stroke-linejoin="round" stroke-dasharray="2.5,1.8"/>
<rect x="768.3" y="494" width="3.6" height="70" fill="#111"/>
<rect x="786" y="560.5" width="30" height="3" fill="#111"/>
<g fill="#111"><circle cx="769.4" cy="341.1" r="1.95"/><circle cx="769.4" cy="345.7" r="1.95"/><circle cx="772.0" cy="350.6" r="1.95"/><circle cx="769.4" cy="354.8" r="1.95"/><circle cx="822.0" cy="381.1" r="1.95"/><circle cx="818.3" cy="392.6" r="1.95"/><circle cx="855.2" cy="392.6" r="1.95"/><circle cx="877.1" cy="364.2" r="1.95"/><circle cx="878.5" cy="384.5" r="1.95"/><circle cx="895.8" cy="340.4" r="1.95"/><circle cx="890.1" cy="386.3" r="1.95"/><circle cx="880.3" cy="405.0" r="1.95"/><circle cx="926.7" cy="373.1" r="1.95"/><circle cx="924.4" cy="386.8" r="1.95"/><circle cx="819.8" cy="437.7" r="1.95"/><circle cx="891.3" cy="437.0" r="1.95"/><circle cx="891.3" cy="386.1" r="1.95"/><circle cx="985.9" cy="382.3" r="1.95"/><circle cx="987.0" cy="405.7" r="1.95"/><circle cx="989.8" cy="429.3" r="1.95"/><circle cx="977.2" cy="453.0" r="1.95"/><circle cx="911.2" cy="457.0" r="1.95"/><circle cx="1099.8" cy="461.7" r="1.95"/><circle cx="1098.4" cy="466.8" r="1.95"/><circle cx="1108.9" cy="471.9" r="1.95"/><circle cx="815.4" cy="502.0" r="1.95"/><circle cx="825.6" cy="515.4" r="1.95"/><circle cx="829.6" cy="513.7" r="1.95"/><circle cx="833.6" cy="509.1" r="1.95"/><circle cx="779.4" cy="518.8" r="1.95"/><circle cx="792.5" cy="528.5" r="1.95"/><circle cx="821.6" cy="530.8" r="1.95"/><circle cx="819.9" cy="546.2" r="1.95"/><circle cx="790.8" cy="545.7" r="1.95"/><circle cx="777.1" cy="542.8" r="1.95"/><circle cx="773.1" cy="506.3" r="1.95"/><circle cx="837.6" cy="521.7" r="1.95"/><circle cx="833.1" cy="522.3" r="1.95"/><circle cx="837.6" cy="554.8" r="1.95"/><circle cx="820.4" cy="437.8" r="1.95"/><circle cx="823.3" cy="448.3" r="1.95"/><circle cx="816.5" cy="465.5" r="1.95"/><circle cx="820.4" cy="465.5" r="1.95"/><circle cx="816.7" cy="480.3" r="1.95"/><circle cx="820.4" cy="482.2" r="1.95"/><circle cx="823.3" cy="478.0" r="1.95"/><circle cx="837.4" cy="457.2" r="1.95"/><circle cx="851.0" cy="442.0" r="1.95"/><circle cx="857.9" cy="452.2" r="1.95"/><circle cx="857.9" cy="466.3" r="1.95"/><circle cx="851.0" cy="467.6" r="1.95"/><circle cx="863.7" cy="470.7" r="1.95"/><circle cx="870.3" cy="475.0" r="1.95"/><circle cx="872.9" cy="452.2" r="1.95"/><circle cx="877.1" cy="464.0" r="1.95"/><circle cx="878.4" cy="469.4" r="1.95"/><circle cx="890.1" cy="472.4" r="1.95"/><circle cx="887.5" cy="482.9" r="1.95"/><circle cx="855.9" cy="480.3" r="1.95"/><circle cx="852.0" cy="491.4" r="1.95"/><circle cx="853.3" cy="495.9" r="1.95"/><circle cx="858.5" cy="496.8" r="1.95"/><circle cx="861.1" cy="497.9" r="1.95"/><circle cx="863.7" cy="505.0" r="1.95"/><circle cx="869.0" cy="500.5" r="1.95"/><circle cx="873.5" cy="495.9" r="1.95"/><circle cx="885.9" cy="504.4" r="1.95"/><circle cx="889.2" cy="505.7" r="1.95"/><circle cx="837.0" cy="499.2" r="1.95"/><circle cx="837.0" cy="505.0" r="1.95"/><circle cx="816.5" cy="497.2" r="1.95"/><circle cx="815.7" cy="501.8" r="1.95"/><circle cx="833.1" cy="509.0" r="1.95"/><circle cx="903.6" cy="492.0" r="1.95"/><circle cx="904.2" cy="487.4" r="1.95"/><circle cx="904.2" cy="500.5" r="1.95"/><circle cx="903.5" cy="492.7" r="1.95"/><circle cx="903.9" cy="501.1" r="1.95"/><circle cx="911.3" cy="456.8" r="1.95"/><circle cx="912.6" cy="464.0" r="1.95"/><circle cx="911.7" cy="484.2" r="1.95"/><circle cx="913.0" cy="493.3" r="1.95"/><circle cx="927.0" cy="467.2" r="1.95"/><circle cx="927.6" cy="480.3" r="1.95"/><circle cx="930.2" cy="483.5" r="1.95"/><circle cx="938.1" cy="503.8" r="1.95"/><circle cx="938.7" cy="508.3" r="1.95"/><circle cx="942.0" cy="498.5" r="1.95"/><circle cx="955.0" cy="491.4" r="1.95"/><circle cx="954.4" cy="500.5" r="1.95"/><circle cx="955.0" cy="508.3" r="1.95"/><circle cx="923.7" cy="499.8" r="1.95"/><circle cx="929.0" cy="509.0" r="1.95"/><circle cx="975.9" cy="486.8" r="1.95"/><circle cx="975.3" cy="501.1" r="1.95"/><circle cx="979.9" cy="501.8" r="1.95"/><circle cx="975.3" cy="505.1" r="1.95"/><circle cx="983.8" cy="478.3" r="1.95"/><circle cx="987.0" cy="471.8" r="1.95"/><circle cx="987.7" cy="482.0" r="1.95"/><circle cx="994.2" cy="499.8" r="1.95"/><circle cx="942.2" cy="498.4" r="1.95"/><circle cx="954.7" cy="491.0" r="1.95"/><circle cx="954.0" cy="500.6" r="1.95"/><circle cx="975.3" cy="486.6" r="1.95"/><circle cx="987.7" cy="481.8" r="1.95"/><circle cx="942.2" cy="510.8" r="1.95"/><circle cx="954.0" cy="510.8" r="1.95"/><circle cx="997.3" cy="484.4" r="1.95"/><circle cx="1003.2" cy="493.2" r="1.95"/><circle cx="1009.0" cy="487.3" r="1.95"/><circle cx="1020.8" cy="494.7" r="1.95"/><circle cx="1028.1" cy="488.1" r="1.95"/><circle cx="1028.1" cy="497.6" r="1.95"/><circle cx="1057.5" cy="486.6" r="1.95"/><circle cx="995.1" cy="499.1" r="1.95"/><circle cx="998.8" cy="497.6" r="1.95"/><circle cx="1008.3" cy="499.1" r="1.95"/><circle cx="1008.3" cy="503.5" r="1.95"/><circle cx="1019.3" cy="499.8" r="1.95"/><circle cx="1024.5" cy="499.8" r="1.95"/><circle cx="1056.0" cy="506.4" r="1.95"/><circle cx="1057.5" cy="507.9" r="1.95"/><circle cx="971.6" cy="518.9" r="1.95"/><circle cx="974.5" cy="516.7" r="1.95"/><circle cx="995.1" cy="515.3" r="1.95"/><circle cx="1003.2" cy="514.5" r="1.95"/><circle cx="1014.9" cy="516.0" r="1.95"/><circle cx="949.5" cy="526.3" r="1.95"/><circle cx="954.0" cy="527.0" r="1.95"/><circle cx="969.4" cy="527.0" r="1.95"/><circle cx="987.0" cy="516.7" r="1.95"/><circle cx="988.5" cy="518.9" r="1.95"/><circle cx="998.8" cy="524.8" r="1.95"/><circle cx="997.3" cy="534.3" r="1.95"/><circle cx="1051.6" cy="532.9" r="1.95"/><circle cx="1057.5" cy="541.7" r="1.95"/><circle cx="976.0" cy="547.6" r="1.95"/><circle cx="979.7" cy="552.7" r="1.95"/><circle cx="987.7" cy="550.5" r="1.95"/><circle cx="989.2" cy="552.0" r="1.95"/><circle cx="998.8" cy="549.0" r="1.95"/><circle cx="998.8" cy="552.0" r="1.95"/><circle cx="1003.2" cy="557.1" r="1.95"/><circle cx="1007.6" cy="552.0" r="1.95"/><circle cx="1007.6" cy="556.4" r="1.95"/><circle cx="1013.4" cy="553.4" r="1.95"/><circle cx="1019.3" cy="554.2" r="1.95"/><circle cx="1024.5" cy="554.9" r="1.95"/><circle cx="1028.1" cy="557.9" r="1.95"/><circle cx="1055.3" cy="556.4" r="1.95"/><circle cx="942.2" cy="554.2" r="1.95"/><circle cx="942.2" cy="559.3" r="1.95"/><circle cx="954.7" cy="552.0" r="1.95"/><circle cx="954.7" cy="556.4" r="1.95"/><circle cx="962.0" cy="554.9" r="1.95"/><circle cx="987.0" cy="557.9" r="1.95"/><circle cx="1041.4" cy="560.0" r="1.95"/><circle cx="1057.5" cy="507.0" r="1.95"/><circle cx="1072.1" cy="508.2" r="1.95"/><circle cx="1061.6" cy="514.0" r="1.95"/><circle cx="1076.2" cy="500.0" r="1.95"/><circle cx="1098.3" cy="501.4" r="1.95"/><circle cx="1105.9" cy="501.8" r="1.95"/><circle cx="1110.6" cy="511.7" r="1.95"/><circle cx="1106.5" cy="518.1" r="1.95"/><circle cx="1127.5" cy="505.8" r="1.95"/><circle cx="1051.7" cy="532.7" r="1.95"/><circle cx="1057.5" cy="541.4" r="1.95"/><circle cx="1098.3" cy="527.4" r="1.95"/><circle cx="1061.6" cy="549.6" r="1.95"/><circle cx="1109.4" cy="545.5" r="1.95"/><circle cx="1055.2" cy="556.0" r="1.95"/><circle cx="1076.2" cy="553.7" r="1.95"/><circle cx="1099.5" cy="548.4" r="1.95"/><circle cx="1098.3" cy="551.3" r="1.95"/><circle cx="1110.0" cy="554.8" r="1.95"/><circle cx="1098.3" cy="555.4" r="1.95"/><circle cx="1041.8" cy="560.7" r="1.95"/><circle cx="1128.7" cy="558.3" r="1.95"/><circle cx="1134.5" cy="559.5" r="1.95"/><circle cx="1126.9" cy="563.0" r="1.95"/><circle cx="1131.0" cy="563.0" r="1.95"/><circle cx="1156.1" cy="563.0" r="1.95"/><circle cx="1160.2" cy="563.0" r="1.95"/><circle cx="1103.7" cy="500.7" r="1.95"/><circle cx="1108.5" cy="498.3" r="1.95"/><circle cx="1110.8" cy="510.1" r="1.95"/><circle cx="1095.5" cy="494.8" r="1.95"/><circle cx="1076.5" cy="498.3" r="1.95"/><circle cx="1071.8" cy="507.8" r="1.95"/><circle cx="1061.2" cy="513.7" r="1.95"/><circle cx="1108.5" cy="545.6" r="1.95"/><circle cx="1074.2" cy="553.9" r="1.95"/><circle cx="971.3" cy="514.9" r="1.95"/><circle cx="973.7" cy="517.2" r="1.95"/><circle cx="968.9" cy="526.7" r="1.95"/><circle cx="952.4" cy="526.7" r="1.95"/><circle cx="820.2" cy="437.8" r="1.95"/><circle cx="857.6" cy="452.3" r="1.95"/><circle cx="816.5" cy="480.2" r="1.95"/><circle cx="820.3" cy="482.5" r="1.95"/><circle cx="822.8" cy="478.0" r="1.95"/><circle cx="837.6" cy="457.2" r="1.95"/><circle cx="850.8" cy="467.7" r="1.95"/><circle cx="857.6" cy="468.2" r="1.95"/><circle cx="855.7" cy="480.0" r="1.95"/><circle cx="815.9" cy="497.4" r="1.95"/><circle cx="851.9" cy="491.6" r="1.95"/><circle cx="853.6" cy="496.2" r="1.95"/><circle cx="858.2" cy="496.8" r="1.95"/><circle cx="850.8" cy="441.4" r="1.95"/><circle cx="775.8" cy="441.4" r="1.95"/><circle cx="819.8" cy="437.5" r="1.95"/><circle cx="823.5" cy="447.8" r="1.95"/><circle cx="816.6" cy="465.4" r="1.95"/><circle cx="820.5" cy="465.4" r="1.95"/><circle cx="815.9" cy="479.8" r="1.95"/><circle cx="820.5" cy="482.0" r="1.95"/><circle cx="822.8" cy="477.9" r="1.95"/><circle cx="837.2" cy="456.9" r="1.95"/><circle cx="850.9" cy="442.6" r="1.95"/><circle cx="857.7" cy="452.4" r="1.95"/><circle cx="851.3" cy="467.2" r="1.95"/><circle cx="858.2" cy="467.7" r="1.95"/><circle cx="863.9" cy="470.6" r="1.95"/><circle cx="870.7" cy="475.0" r="1.95"/><circle cx="872.6" cy="452.4" r="1.95"/><circle cx="876.9" cy="464.2" r="1.95"/><circle cx="878.7" cy="470.0" r="1.95"/><circle cx="891.3" cy="436.8" r="1.95"/><circle cx="890.1" cy="472.2" r="1.95"/><circle cx="887.4" cy="483.0" r="1.95"/><circle cx="855.4" cy="479.5" r="1.95"/><circle cx="852.0" cy="491.6" r="1.95"/><circle cx="852.0" cy="496.9" r="1.95"/><circle cx="858.2" cy="496.9" r="1.95"/><circle cx="863.9" cy="504.2" r="1.95"/><circle cx="869.1" cy="500.3" r="1.95"/><circle cx="873.5" cy="496.2" r="1.95"/><circle cx="815.9" cy="497.4" r="1.95"/><circle cx="815.9" cy="501.9" r="1.95"/><circle cx="837.2" cy="498.5" r="1.95"/><circle cx="837.2" cy="504.2" r="1.95"/><circle cx="825.8" cy="515.6" r="1.95"/><circle cx="829.6" cy="514.0" r="1.95"/><circle cx="833.5" cy="509.2" r="1.95"/><circle cx="838.8" cy="513.3" r="1.95"/><circle cx="847.2" cy="510.4" r="1.95"/><circle cx="845.6" cy="515.6" r="1.95"/><circle cx="852.5" cy="517.4" r="1.95"/><circle cx="821.6" cy="530.5" r="1.95"/><circle cx="819.8" cy="546.4" r="1.95"/><circle cx="792.0" cy="528.2" r="1.95"/><circle cx="779.2" cy="518.6" r="1.95"/><circle cx="790.8" cy="545.3" r="1.95"/><circle cx="777.1" cy="541.9" r="1.95"/><circle cx="829.0" cy="549.2" r="1.95"/><circle cx="837.6" cy="522.5" r="1.95"/><circle cx="841.7" cy="525.4" r="1.95"/><circle cx="847.9" cy="522.5" r="1.95"/><circle cx="851.3" cy="521.3" r="1.95"/><circle cx="858.2" cy="525.9" r="1.95"/><circle cx="864.6" cy="523.6" r="1.95"/><circle cx="869.6" cy="511.7" r="1.95"/><circle cx="879.9" cy="509.9" r="1.95"/><circle cx="885.1" cy="504.9" r="1.95"/><circle cx="889.0" cy="505.8" r="1.95"/><circle cx="858.9" cy="516.3" r="1.95"/><circle cx="865.5" cy="530.0" r="1.95"/><circle cx="863.9" cy="533.2" r="1.95"/><circle cx="874.6" cy="525.4" r="1.95"/><circle cx="878.7" cy="539.6" r="1.95"/><circle cx="895.8" cy="533.9" r="1.95"/><circle cx="902.7" cy="532.1" r="1.95"/><circle cx="900.4" cy="514.0" r="1.95"/><circle cx="910.7" cy="516.3" r="1.95"/><circle cx="908.4" cy="521.3" r="1.95"/><circle cx="923.2" cy="499.6" r="1.95"/><circle cx="927.8" cy="509.5" r="1.95"/><circle cx="924.4" cy="516.8" r="1.95"/><circle cx="926.2" cy="523.6" r="1.95"/><circle cx="931.2" cy="524.1" r="1.95"/><circle cx="929.0" cy="548.7" r="1.95"/><circle cx="929.0" cy="556.7" r="1.95"/><circle cx="912.5" cy="535.0" r="1.95"/><circle cx="911.8" cy="555.1" r="1.95"/><circle cx="890.1" cy="547.6" r="1.95"/><circle cx="891.3" cy="553.3" r="1.95"/><circle cx="884.4" cy="554.4" r="1.95"/><circle cx="874.2" cy="548.7" r="1.95"/><circle cx="879.9" cy="554.4" r="1.95"/><circle cx="860.5" cy="549.9" r="1.95"/><circle cx="852.5" cy="553.3" r="1.95"/><circle cx="845.6" cy="554.4" r="1.95"/><circle cx="837.6" cy="554.4" r="1.95"/><circle cx="821.6" cy="561.3" r="1.95"/><circle cx="837.6" cy="561.3" r="1.95"/><circle cx="950.6" cy="525.9" r="1.95"/><circle cx="955.2" cy="526.3" r="1.95"/><circle cx="942.6" cy="498.0" r="1.95"/><circle cx="938.1" cy="508.8" r="1.95"/><circle cx="954.1" cy="508.8" r="1.95"/><circle cx="955.2" cy="499.6" r="1.95"/><circle cx="911.8" cy="464.2" r="1.95"/><circle cx="911.1" cy="484.8" r="1.95"/><circle cx="912.5" cy="492.8" r="1.95"/><circle cx="903.4" cy="491.6" r="1.95"/><circle cx="903.8" cy="500.8" r="1.95"/><circle cx="929.0" cy="479.1" r="1.95"/><circle cx="930.8" cy="484.8" r="1.95"/><circle cx="937.6" cy="503.5" r="1.95"/><circle cx="820.0" cy="546.7" r="1.95"/><circle cx="837.5" cy="554.2" r="1.95"/><circle cx="845.0" cy="555.0" r="1.95"/><circle cx="855.8" cy="550.8" r="1.95"/><circle cx="850.8" cy="557.5" r="1.95"/><circle cx="860.0" cy="555.8" r="1.95"/><circle cx="880.0" cy="554.2" r="1.95"/><circle cx="885.0" cy="560.0" r="1.95"/><circle cx="890.0" cy="550.0" r="1.95"/><circle cx="911.7" cy="555.8" r="1.95"/><circle cx="928.3" cy="550.0" r="1.95"/><circle cx="930.0" cy="556.7" r="1.95"/><circle cx="941.7" cy="560.0" r="1.95"/><circle cx="955.0" cy="553.3" r="1.95"/><circle cx="961.7" cy="554.2" r="1.95"/><circle cx="965.0" cy="560.8" r="1.95"/><circle cx="973.3" cy="546.7" r="1.95"/><circle cx="765.2" cy="379.0" r="1.95"/><circle cx="765.6" cy="382.8" r="1.95"/><circle cx="765.4" cy="386.4" r="1.95"/><circle cx="765.0" cy="390.7" r="1.95"/><circle cx="764.9" cy="395.2" r="1.95"/><circle cx="765.0" cy="399.6" r="1.95"/><circle cx="765.3" cy="403.2" r="1.95"/><circle cx="765.0" cy="408.4" r="1.95"/><circle cx="765.5" cy="412.3" r="1.95"/><circle cx="765.5" cy="417.7" r="1.95"/><circle cx="765.9" cy="422.0" r="1.95"/><circle cx="765.8" cy="425.6" r="1.95"/><circle cx="765.0" cy="429.7" r="1.95"/><circle cx="765.2" cy="433.4" r="1.95"/><circle cx="765.1" cy="438.6" r="1.95"/><circle cx="765.5" cy="443.2" r="1.95"/><circle cx="765.4" cy="447.5" r="1.95"/><circle cx="765.0" cy="451.1" r="1.95"/><circle cx="765.6" cy="455.0" r="1.95"/><circle cx="765.2" cy="459.4" r="1.95"/><circle cx="765.4" cy="464.0" r="1.95"/><circle cx="765.7" cy="468.1" r="1.95"/><circle cx="765.1" cy="473.0" r="1.95"/><circle cx="765.4" cy="477.7" r="1.95"/><circle cx="765.6" cy="482.9" r="1.95"/><circle cx="765.9" cy="487.0" r="1.95"/><circle cx="765.3" cy="490.8" r="1.95"/><circle cx="765.1" cy="495.8" r="1.95"/><circle cx="764.9" cy="500.2" r="1.95"/><circle cx="765.7" cy="505.1" r="1.95"/><circle cx="765.8" cy="509.7" r="1.95"/><circle cx="765.6" cy="513.9" r="1.95"/><circle cx="765.5" cy="518.5" r="1.95"/><circle cx="765.7" cy="523.0" r="1.95"/><circle cx="765.4" cy="528.3" r="1.95"/><circle cx="765.0" cy="533.2" r="1.95"/><circle cx="765.5" cy="538.1" r="1.95"/><circle cx="765.7" cy="543.6" r="1.95"/><circle cx="765.3" cy="547.6" r="1.95"/><circle cx="764.9" cy="552.5" r="1.95"/><circle cx="765.1" cy="556.9" r="1.95"/><circle cx="765.0" cy="560.6" r="1.95"/><circle cx="769.2" cy="356.0" r="1.95"/><circle cx="769.5" cy="359.4" r="1.95"/><circle cx="769.1" cy="363.7" r="1.95"/><circle cx="769.7" cy="367.4" r="1.95"/><circle cx="770.0" cy="371.7" r="1.95"/><circle cx="769.3" cy="376.0" r="1.95"/><circle cx="769.4" cy="379.6" r="1.95"/><circle cx="770.1" cy="383.9" r="1.95"/><circle cx="769.2" cy="387.1" r="1.95"/><circle cx="769.3" cy="390.5" r="1.95"/><circle cx="769.7" cy="394.2" r="1.95"/><circle cx="769.0" cy="397.6" r="1.95"/><circle cx="769.4" cy="401.2" r="1.95"/><circle cx="770.1" cy="405.1" r="1.95"/><circle cx="769.6" cy="409.1" r="1.95"/><circle cx="769.8" cy="413.1" r="1.95"/><circle cx="770.1" cy="416.1" r="1.95"/><circle cx="770.0" cy="420.3" r="1.95"/><circle cx="769.5" cy="424.5" r="1.95"/><circle cx="769.1" cy="428.1" r="1.95"/><circle cx="769.1" cy="432.1" r="1.95"/><circle cx="769.3" cy="435.2" r="1.95"/><circle cx="769.4" cy="438.4" r="1.95"/><circle cx="769.0" cy="441.5" r="1.95"/><circle cx="769.1" cy="446.7" r="1.95"/><circle cx="769.0" cy="452.3" r="1.95"/><circle cx="769.7" cy="458.6" r="1.95"/><circle cx="769.3" cy="463.8" r="1.95"/><circle cx="769.4" cy="469.3" r="1.95"/><circle cx="770.0" cy="474.5" r="1.95"/><circle cx="769.6" cy="481.0" r="1.95"/><circle cx="769.1" cy="486.7" r="1.95"/><circle cx="769.4" cy="491.9" r="1.95"/><circle cx="773.0" cy="492.0" r="1.95"/><circle cx="770.6" cy="495.5" r="1.95"/><circle cx="772.1" cy="501.3" r="1.95"/><circle cx="772.1" cy="504.8" r="1.95"/><circle cx="772.1" cy="507.9" r="1.95"/><circle cx="773.1" cy="513.8" r="1.95"/><circle cx="771.3" cy="518.9" r="1.95"/><circle cx="771.0" cy="523.0" r="1.95"/><circle cx="772.1" cy="528.3" r="1.95"/><circle cx="771.5" cy="533.6" r="1.95"/><circle cx="772.9" cy="537.3" r="1.95"/><circle cx="773.1" cy="543.3" r="1.95"/><circle cx="773.0" cy="548.7" r="1.95"/><circle cx="771.2" cy="553.9" r="1.95"/><circle cx="771.6" cy="558.5" r="1.95"/><circle cx="770.6" cy="561.5" r="1.95"/><circle cx="780.0" cy="561.6" r="1.95"/><circle cx="785.6" cy="563.2" r="1.95"/><circle cx="790.1" cy="563.2" r="1.95"/><circle cx="797.1" cy="563.2" r="1.95"/><circle cx="801.2" cy="561.5" r="1.95"/><circle cx="804.7" cy="561.5" r="1.95"/><circle cx="808.2" cy="562.4" r="1.95"/><circle cx="814.7" cy="562.9" r="1.95"/><circle cx="819.4" cy="562.5" r="1.95"/><circle cx="825.5" cy="561.2" r="1.95"/><circle cx="830.9" cy="563.1" r="1.95"/><circle cx="837.0" cy="562.7" r="1.95"/><circle cx="841.6" cy="561.4" r="1.95"/><circle cx="847.7" cy="561.8" r="1.95"/><circle cx="853.8" cy="563.2" r="1.95"/><circle cx="858.0" cy="561.9" r="1.95"/><circle cx="864.8" cy="562.7" r="1.95"/><circle cx="868.1" cy="561.3" r="1.95"/><circle cx="871.2" cy="563.1" r="1.95"/><circle cx="877.4" cy="561.3" r="1.95"/><circle cx="883.6" cy="563.3" r="1.95"/><circle cx="889.1" cy="561.8" r="1.95"/><circle cx="894.0" cy="561.3" r="1.95"/><circle cx="896.6" cy="563.2" r="1.95"/><circle cx="902.0" cy="562.2" r="1.95"/><circle cx="908.7" cy="562.0" r="1.95"/><circle cx="915.1" cy="562.9" r="1.95"/><circle cx="918.6" cy="561.6" r="1.95"/><circle cx="922.4" cy="561.6" r="1.95"/><circle cx="927.5" cy="561.6" r="1.95"/><circle cx="931.9" cy="561.3" r="1.95"/><circle cx="938.5" cy="561.8" r="1.95"/><circle cx="943.1" cy="562.3" r="1.95"/><circle cx="949.7" cy="562.0" r="1.95"/><circle cx="956.3" cy="562.2" r="1.95"/><circle cx="961.2" cy="562.2" r="1.95"/><circle cx="963.8" cy="562.0" r="1.95"/><circle cx="967.1" cy="561.0" r="1.95"/><circle cx="973.2" cy="561.4" r="1.95"/><circle cx="977.8" cy="562.7" r="1.95"/><circle cx="982.8" cy="561.7" r="1.95"/><circle cx="987.7" cy="562.3" r="1.95"/><circle cx="993.7" cy="561.2" r="1.95"/><circle cx="998.7" cy="561.6" r="1.95"/><circle cx="1002.4" cy="562.8" r="1.95"/><circle cx="1007.2" cy="562.3" r="1.95"/><circle cx="1013.2" cy="563.1" r="1.95"/><circle cx="1017.6" cy="562.4" r="1.95"/><circle cx="1022.4" cy="562.2" r="1.95"/><circle cx="1028.0" cy="562.0" r="1.95"/><circle cx="1032.9" cy="562.1" r="1.95"/><circle cx="1039.7" cy="562.6" r="1.95"/><circle cx="1046.1" cy="563.2" r="1.95"/><circle cx="1049.8" cy="562.3" r="1.95"/><circle cx="1056.5" cy="562.9" r="1.95"/><circle cx="1059.6" cy="561.3" r="1.95"/><circle cx="1064.1" cy="561.2" r="1.95"/><circle cx="1067.7" cy="561.2" r="1.95"/><circle cx="1073.2" cy="562.8" r="1.95"/><circle cx="1079.8" cy="561.4" r="1.95"/><circle cx="1085.5" cy="562.5" r="1.95"/><circle cx="1088.6" cy="563.0" r="1.95"/><circle cx="1095.5" cy="561.5" r="1.95"/><circle cx="1102.3" cy="561.9" r="1.95"/><circle cx="1107.0" cy="563.3" r="1.95"/><circle cx="1113.2" cy="561.4" r="1.95"/><circle cx="1117.7" cy="562.2" r="1.95"/><circle cx="1121.7" cy="561.5" r="1.95"/><circle cx="1125.6" cy="562.7" r="1.95"/><circle cx="1128.2" cy="562.3" r="1.95"/><circle cx="1132.7" cy="561.0" r="1.95"/><circle cx="1136.7" cy="562.4" r="1.95"/><circle cx="1141.5" cy="561.1" r="1.95"/><circle cx="1148.4" cy="562.8" r="1.95"/><circle cx="1155.3" cy="561.2" r="1.95"/><circle cx="1159.0" cy="561.1" r="1.95"/></g>
<line x1="765.10" y1="307.00" x2="765.10" y2="564.80" stroke="#000" stroke-width="2.0" />
<line x1="764.30" y1="564.00" x2="1197.00" y2="564.00" stroke="#000" stroke-width="2.2" />
<line x1="761.00" y1="564.00" x2="765.10" y2="564.00" stroke="#000" stroke-width="1.6" />
<text x="757.00" y="568.00" font-size="10.5" text-anchor="end" font-weight="bold" fill="#111" >0</text>
<line x1="761.00" y1="526.05" x2="765.10" y2="526.05" stroke="#000" stroke-width="1.6" />
<text x="757.00" y="530.05" font-size="10.5" text-anchor="end" font-weight="bold" fill="#111" >100</text>
<line x1="761.00" y1="488.10" x2="765.10" y2="488.10" stroke="#000" stroke-width="1.6" />
<text x="757.00" y="492.10" font-size="10.5" text-anchor="end" font-weight="bold" fill="#111" >200</text>
<line x1="761.00" y1="450.15" x2="765.10" y2="450.15" stroke="#000" stroke-width="1.6" />
<text x="757.00" y="454.15" font-size="10.5" text-anchor="end" font-weight="bold" fill="#111" >300</text>
<line x1="761.00" y1="412.20" x2="765.10" y2="412.20" stroke="#000" stroke-width="1.6" />
<text x="757.00" y="416.20" font-size="10.5" text-anchor="end" font-weight="bold" fill="#111" >400</text>
<line x1="761.00" y1="374.25" x2="765.10" y2="374.25" stroke="#000" stroke-width="1.6" />
<text x="757.00" y="378.25" font-size="10.5" text-anchor="end" font-weight="bold" fill="#111" >500</text>
<line x1="761.00" y1="336.30" x2="765.10" y2="336.30" stroke="#000" stroke-width="1.6" />
<text x="757.00" y="340.30" font-size="10.5" text-anchor="end" font-weight="bold" fill="#111" >600</text>
<line x1="765.10" y1="564.00" x2="765.10" y2="568.00" stroke="#000" stroke-width="1.6" />
<text x="765.10" y="580.50" font-size="10.5" text-anchor="middle" font-weight="bold" fill="#111" >0</text>
<line x1="848.76" y1="564.00" x2="848.76" y2="568.00" stroke="#000" stroke-width="1.6" />
<text x="848.76" y="580.50" font-size="10.5" text-anchor="middle" font-weight="bold" fill="#111" >10</text>
<line x1="932.42" y1="564.00" x2="932.42" y2="568.00" stroke="#000" stroke-width="1.6" />
<text x="932.42" y="580.50" font-size="10.5" text-anchor="middle" font-weight="bold" fill="#111" >20</text>
<line x1="1016.08" y1="564.00" x2="1016.08" y2="568.00" stroke="#000" stroke-width="1.6" />
<text x="1016.08" y="580.50" font-size="10.5" text-anchor="middle" font-weight="bold" fill="#111" >30</text>
<line x1="1099.74" y1="564.00" x2="1099.74" y2="568.00" stroke="#000" stroke-width="1.6" />
<text x="1099.74" y="580.50" font-size="10.5" text-anchor="middle" font-weight="bold" fill="#111" >40</text>
<line x1="1183.40" y1="564.00" x2="1183.40" y2="568.00" stroke="#000" stroke-width="1.6" />
<text x="1183.40" y="580.50" font-size="10.5" text-anchor="middle" font-weight="bold" fill="#111" >50</text>
<text x="941.30" y="596.70" font-size="11" text-anchor="start" font-weight="bold" fill="#111" textLength="73.7" lengthAdjust="spacingAndGlyphs" >Time (months)</text>
<text x="730.00" y="519.00" font-size="10.5" text-anchor="start" font-weight="bold" fill="#111" textLength="178.2" lengthAdjust="spacingAndGlyphs" transform="rotate(-90 730.00 519.00)" >Rituximab concentrations (mg l<tspan font-size="7.5" dy="-4">−1</tspan><tspan dy="4">)</tspan></text>
<line x1="58.80" y1="253.00" x2="320.10" y2="7.00" stroke="#000" stroke-width="2.2" />
<g fill="#fff" stroke="#111" stroke-width="1.45"><circle cx="107.6" cy="201.0" r="3.85"/><circle cx="123.6" cy="179.9" r="3.85"/><circle cx="109.3" cy="211.3" r="3.85"/><circle cx="129.5" cy="183.2" r="3.85"/><circle cx="119.2" cy="155.6" r="3.85"/><circle cx="102.1" cy="169.1" r="3.85"/><circle cx="121.9" cy="138.9" r="3.85"/><circle cx="129.0" cy="155.2" r="3.85"/><circle cx="109.9" cy="136.2" r="3.85"/><circle cx="135.9" cy="205.9" r="3.85"/><circle cx="131.8" cy="193.6" r="3.85"/><circle cx="103.2" cy="164.9" r="3.85"/><circle cx="118.9" cy="143.6" r="3.85"/><circle cx="134.4" cy="168.8" r="3.85"/><circle cx="107.3" cy="213.8" r="3.85"/><circle cx="106.2" cy="224.8" r="3.85"/><circle cx="117.4" cy="187.2" r="3.85"/><circle cx="113.7" cy="180.5" r="3.85"/><circle cx="108.4" cy="135.7" r="3.85"/><circle cx="131.4" cy="155.5" r="3.85"/><circle cx="128.5" cy="152.9" r="3.85"/><circle cx="134.9" cy="221.4" r="3.85"/><circle cx="127.7" cy="208.3" r="3.85"/><circle cx="121.7" cy="205.0" r="3.85"/><circle cx="106.2" cy="179.6" r="3.85"/><circle cx="130.1" cy="152.1" r="3.85"/><circle cx="133.4" cy="220.8" r="3.85"/><circle cx="115.9" cy="168.5" r="3.85"/><circle cx="117.3" cy="170.6" r="3.85"/><circle cx="135.8" cy="170.7" r="3.85"/><circle cx="102.9" cy="141.3" r="3.85"/><circle cx="126.4" cy="231.3" r="3.85"/><circle cx="118.9" cy="181.2" r="3.85"/><circle cx="120.7" cy="206.8" r="3.85"/><circle cx="109.5" cy="192.9" r="3.85"/><circle cx="120.9" cy="194.3" r="3.85"/><circle cx="108.1" cy="149.0" r="3.85"/><circle cx="113.8" cy="224.7" r="3.85"/><circle cx="113.8" cy="191.7" r="3.85"/><circle cx="112.4" cy="142.3" r="3.85"/><circle cx="70.4" cy="245.9" r="3.85"/><circle cx="96.0" cy="236.2" r="3.85"/><circle cx="92.6" cy="242.9" r="3.85"/><circle cx="100.4" cy="249.1" r="3.85"/><circle cx="82.7" cy="249.8" r="3.85"/><circle cx="102.6" cy="241.0" r="3.85"/><circle cx="99.8" cy="238.8" r="3.85"/><circle cx="81.5" cy="233.4" r="3.85"/><circle cx="99.5" cy="231.6" r="3.85"/><circle cx="70.5" cy="245.7" r="3.85"/><circle cx="95.9" cy="238.6" r="3.85"/><circle cx="98.1" cy="229.1" r="3.85"/><circle cx="77.3" cy="234.4" r="3.85"/><circle cx="83.1" cy="231.8" r="3.85"/><circle cx="70.5" cy="235.4" r="3.85"/><circle cx="100.4" cy="249.6" r="3.85"/><circle cx="94.9" cy="238.5" r="3.85"/><circle cx="77.1" cy="249.1" r="3.85"/><circle cx="86.9" cy="244.0" r="3.85"/><circle cx="69.0" cy="232.7" r="3.85"/><circle cx="98.2" cy="245.5" r="3.85"/><circle cx="99.7" cy="241.2" r="3.85"/><circle cx="83.3" cy="240.8" r="3.85"/><circle cx="98.6" cy="234.8" r="3.85"/><circle cx="87.2" cy="234.1" r="3.85"/><circle cx="156.1" cy="116.8" r="3.85"/><circle cx="185.4" cy="120.1" r="3.85"/><circle cx="161.8" cy="129.9" r="3.85"/><circle cx="169.1" cy="134.8" r="3.85"/><circle cx="156.9" cy="138.0" r="3.85"/><circle cx="161.8" cy="141.3" r="3.85"/><circle cx="182.2" cy="135.3" r="3.85"/><circle cx="178.1" cy="147.8" r="3.85"/><circle cx="188.7" cy="146.2" r="3.85"/><circle cx="156.1" cy="157.0" r="3.85"/><circle cx="93.3" cy="148.6" r="3.85"/><circle cx="74.2" cy="167.4" r="3.85"/><circle cx="174.0" cy="170.0" r="3.85"/><circle cx="154.8" cy="167.9" r="3.85"/><circle cx="151.2" cy="174.9" r="3.85"/><circle cx="147.1" cy="178.2" r="3.85"/><circle cx="141.4" cy="183.7" r="3.85"/><circle cx="139.8" cy="173.6" r="3.85"/><circle cx="164.2" cy="182.6" r="3.85"/><circle cx="156.9" cy="189.9" r="3.85"/><circle cx="149.6" cy="190.7" r="3.85"/><circle cx="159.4" cy="194.8" r="3.85"/><circle cx="164.6" cy="201.6" r="3.85"/><circle cx="154.5" cy="204.2" r="3.85"/><circle cx="175.7" cy="189.1" r="3.85"/><circle cx="175.7" cy="196.4" r="3.85"/><circle cx="192.8" cy="194.0" r="3.85"/><circle cx="202.6" cy="180.1" r="3.85"/><circle cx="187.1" cy="178.5" r="3.85"/><circle cx="202.6" cy="136.1" r="3.85"/><circle cx="198.5" cy="144.2" r="3.85"/><circle cx="202.6" cy="149.1" r="3.85"/><circle cx="200.1" cy="158.1" r="3.85"/><circle cx="182.2" cy="163.0" r="3.85"/><circle cx="186.3" cy="167.9" r="3.85"/><circle cx="192.0" cy="158.9" r="3.85"/><circle cx="195.2" cy="165.4" r="3.85"/><circle cx="190.3" cy="172.8" r="3.85"/><circle cx="188.7" cy="155.7" r="3.85"/><circle cx="126.7" cy="127.9" r="3.85"/><circle cx="121.0" cy="131.2" r="3.85"/><circle cx="133.3" cy="130.9" r="3.85"/><circle cx="122.7" cy="135.3" r="3.85"/><circle cx="128.4" cy="137.7" r="3.85"/><circle cx="136.5" cy="141.0" r="3.85"/><circle cx="117.0" cy="140.2" r="3.85"/><circle cx="106.4" cy="141.8" r="3.85"/><circle cx="105.5" cy="149.9" r="3.85"/><circle cx="112.9" cy="148.3" r="3.85"/><circle cx="120.2" cy="148.3" r="3.85"/><circle cx="126.7" cy="144.2" r="3.85"/><circle cx="131.6" cy="158.9" r="3.85"/><circle cx="136.5" cy="158.1" r="3.85"/><circle cx="123.5" cy="155.7" r="3.85"/><circle cx="116.1" cy="154.0" r="3.85"/><circle cx="108.0" cy="157.3" r="3.85"/><circle cx="102.3" cy="163.0" r="3.85"/><circle cx="111.3" cy="165.4" r="3.85"/><circle cx="118.6" cy="160.5" r="3.85"/><circle cx="123.5" cy="166.3" r="3.85"/><circle cx="131.6" cy="164.6" r="3.85"/><circle cx="136.5" cy="167.1" r="3.85"/><circle cx="137.3" cy="173.6" r="3.85"/><circle cx="118.6" cy="172.0" r="3.85"/><circle cx="109.6" cy="175.2" r="3.85"/><circle cx="105.5" cy="170.3" r="3.85"/><circle cx="130.0" cy="176.9" r="3.85"/><circle cx="121.9" cy="180.1" r="3.85"/><circle cx="114.5" cy="181.7" r="3.85"/><circle cx="103.9" cy="184.2" r="3.85"/><circle cx="131.6" cy="183.4" r="3.85"/><circle cx="123.5" cy="188.3" r="3.85"/><circle cx="131.6" cy="189.1" r="3.85"/><circle cx="100.7" cy="192.3" r="3.85"/><circle cx="110.4" cy="187.4" r="3.85"/><circle cx="112.9" cy="194.8" r="3.85"/><circle cx="120.2" cy="198.0" r="3.85"/><circle cx="128.4" cy="194.8" r="3.85"/><circle cx="136.5" cy="193.2" r="3.85"/><circle cx="94.1" cy="198.9" r="3.85"/><circle cx="94.1" cy="203.8" r="3.85"/><circle cx="102.3" cy="202.9" r="3.85"/><circle cx="110.4" cy="204.6" r="3.85"/><circle cx="117.0" cy="201.3" r="3.85"/><circle cx="125.1" cy="204.6" r="3.85"/><circle cx="133.3" cy="200.5" r="3.85"/><circle cx="139.0" cy="204.6" r="3.85"/><circle cx="230.4" cy="115.8" r="3.85"/><circle cx="231.7" cy="122.3" r="3.85"/><circle cx="173.1" cy="211.2" r="3.85"/><circle cx="127.5" cy="192.5" r="3.85"/><circle cx="132.5" cy="191.2" r="3.85"/><circle cx="107.5" cy="200.6" r="3.85"/><circle cx="113.8" cy="199.4" r="3.85"/><circle cx="125.0" cy="201.2" r="3.85"/><circle cx="95.6" cy="209.4" r="3.85"/><circle cx="106.2" cy="211.9" r="3.85"/><circle cx="113.8" cy="213.1" r="3.85"/><circle cx="123.1" cy="210.0" r="3.85"/><circle cx="131.9" cy="209.4" r="3.85"/><circle cx="119.4" cy="216.9" r="3.85"/><circle cx="101.9" cy="213.8" r="3.85"/><circle cx="110.0" cy="207.5" r="3.85"/><circle cx="122.5" cy="205.0" r="3.85"/><circle cx="130.0" cy="205.0" r="3.85"/><circle cx="100.6" cy="220.0" r="3.85"/><circle cx="111.2" cy="221.9" r="3.85"/><circle cx="110.0" cy="226.2" r="3.85"/><circle cx="103.1" cy="226.9" r="3.85"/><circle cx="96.9" cy="230.0" r="3.85"/><circle cx="83.1" cy="223.1" r="3.85"/><circle cx="77.5" cy="225.6" r="3.85"/><circle cx="70.0" cy="230.0" r="3.85"/><circle cx="75.0" cy="233.1" r="3.85"/><circle cx="82.5" cy="233.8" r="3.85"/><circle cx="88.8" cy="231.2" r="3.85"/><circle cx="91.2" cy="225.6" r="3.85"/><circle cx="95.6" cy="238.1" r="3.85"/><circle cx="103.8" cy="235.6" r="3.85"/><circle cx="112.5" cy="235.0" r="3.85"/><circle cx="110.6" cy="240.0" r="3.85"/><circle cx="99.4" cy="246.9" r="3.85"/><circle cx="90.0" cy="237.5" r="3.85"/><circle cx="85.0" cy="241.2" r="3.85"/><circle cx="80.0" cy="241.2" r="3.85"/><circle cx="71.2" cy="240.0" r="3.85"/><circle cx="65.0" cy="237.5" r="3.85"/><circle cx="58.8" cy="231.2" r="3.85"/><circle cx="58.8" cy="236.9" r="3.85"/><circle cx="60.6" cy="245.0" r="3.85"/><circle cx="58.8" cy="252.5" r="3.85"/><circle cx="68.8" cy="246.2" r="3.85"/><circle cx="74.4" cy="245.0" r="3.85"/><circle cx="71.2" cy="251.2" r="3.85"/><circle cx="66.2" cy="251.2" r="3.85"/><circle cx="78.8" cy="245.0" r="3.85"/><circle cx="92.5" cy="242.5" r="3.85"/><circle cx="88.8" cy="226.2" r="3.85"/><circle cx="68.8" cy="234.4" r="3.85"/><circle cx="309.0" cy="101.1" r="3.85"/><circle cx="267.7" cy="107.4" r="3.85"/><circle cx="278.0" cy="108.0" r="3.85"/><circle cx="285.7" cy="113.0" r="3.85"/><circle cx="284.2" cy="121.4" r="3.85"/><circle cx="298.6" cy="114.8" r="3.85"/><circle cx="313.2" cy="118.7" r="3.85"/><circle cx="315.3" cy="124.1" r="3.85"/><circle cx="314.9" cy="126.8" r="3.85"/><circle cx="260.0" cy="128.2" r="3.85"/><circle cx="232.3" cy="134.5" r="3.85"/><circle cx="231.8" cy="140.3" r="3.85"/><circle cx="282.4" cy="138.1" r="3.85"/><circle cx="274.9" cy="141.2" r="3.85"/><circle cx="260.0" cy="141.2" r="3.85"/><circle cx="274.9" cy="146.6" r="3.85"/><circle cx="266.8" cy="152.0" r="3.85"/><circle cx="275.8" cy="153.7" r="3.85"/><circle cx="245.3" cy="148.9" r="3.85"/><circle cx="236.3" cy="152.0" r="3.85"/><circle cx="240.8" cy="154.6" r="3.85"/><circle cx="252.5" cy="157.9" r="3.85"/><circle cx="257.8" cy="155.5" r="3.85"/><circle cx="288.0" cy="155.5" r="3.85"/><circle cx="287.5" cy="162.2" r="3.85"/><circle cx="303.3" cy="150.7" r="3.85"/><circle cx="268.6" cy="163.6" r="3.85"/><circle cx="261.8" cy="171.7" r="3.85"/><circle cx="255.7" cy="178.9" r="3.85"/><circle cx="262.9" cy="183.0" r="3.85"/><circle cx="266.8" cy="187.9" r="3.85"/><circle cx="315.3" cy="169.0" r="3.85"/><circle cx="226.4" cy="165.4" r="3.85"/><circle cx="230.9" cy="169.0" r="3.85"/><circle cx="211.2" cy="169.0" r="3.85"/><circle cx="210.3" cy="173.5" r="3.85"/><circle cx="213.0" cy="176.2" r="3.85"/><circle cx="210.3" cy="131.7" r="3.85"/><circle cx="217.4" cy="135.8" r="3.85"/><circle cx="202.5" cy="142.1" r="3.85"/><circle cx="211.2" cy="144.8" r="3.85"/><circle cx="220.1" cy="143.9" r="3.85"/><circle cx="224.6" cy="147.8" r="3.85"/><circle cx="217.4" cy="154.6" r="3.85"/><circle cx="221.9" cy="155.5" r="3.85"/><circle cx="204.0" cy="157.3" r="3.85"/><circle cx="196.8" cy="163.6" r="3.85"/><circle cx="240.4" cy="203.5" r="3.85"/><circle cx="108.2" cy="224.5" r="3.85"/><circle cx="65.7" cy="240.1" r="3.85"/><circle cx="66.6" cy="248.9" r="3.85"/><circle cx="71.5" cy="243.1" r="3.85"/><circle cx="64.7" cy="252.9" r="3.85"/><circle cx="74.5" cy="239.2" r="3.85"/><circle cx="55.9" cy="247.0" r="3.85"/><circle cx="55.9" cy="241.1" r="3.85"/><circle cx="77.1" cy="237.0" r="3.85"/><circle cx="137.9" cy="143.0" r="3.85"/><circle cx="134.5" cy="145.4" r="3.85"/><circle cx="125.2" cy="152.3" r="3.85"/><circle cx="136.9" cy="164.0" r="3.85"/><circle cx="127.1" cy="148.4" r="3.85"/><circle cx="129.1" cy="153.8" r="3.85"/><circle cx="110.5" cy="168.9" r="3.85"/><circle cx="109.0" cy="185.3" r="3.85"/><circle cx="116.4" cy="191.6" r="3.85"/><circle cx="111.5" cy="202.4" r="3.85"/><circle cx="120.3" cy="201.4" r="3.85"/><circle cx="112.5" cy="232.7" r="3.85"/><circle cx="105.1" cy="199.5" r="3.85"/><circle cx="107.1" cy="207.3" r="3.85"/><circle cx="116.4" cy="206.3" r="3.85"/></g>
<line x1="411.60" y1="258.00" x2="673.20" y2="12.00" stroke="#000" stroke-width="2.2" />
<g fill="#fff" stroke="#111" stroke-width="1.45"><circle cx="535.9" cy="140.2" r="3.85"/><circle cx="426.2" cy="253.4" r="3.85"/><circle cx="437.4" cy="225.1" r="3.85"/><circle cx="499.1" cy="176.5" r="3.85"/><circle cx="528.2" cy="148.9" r="3.85"/><circle cx="538.0" cy="142.3" r="3.85"/><circle cx="498.9" cy="189.1" r="3.85"/><circle cx="509.5" cy="179.7" r="3.85"/><circle cx="503.2" cy="166.6" r="3.85"/><circle cx="530.9" cy="154.1" r="3.85"/><circle cx="454.2" cy="212.1" r="3.85"/><circle cx="526.8" cy="157.5" r="3.85"/><circle cx="540.0" cy="150.1" r="3.85"/><circle cx="540.8" cy="145.1" r="3.85"/><circle cx="507.9" cy="174.5" r="3.85"/><circle cx="455.6" cy="227.1" r="3.85"/><circle cx="460.6" cy="219.0" r="3.85"/><circle cx="540.8" cy="146.8" r="3.85"/><circle cx="439.5" cy="238.3" r="3.85"/><circle cx="499.5" cy="172.8" r="3.85"/><circle cx="424.6" cy="245.0" r="3.85"/><circle cx="426.6" cy="251.6" r="3.85"/><circle cx="482.5" cy="194.5" r="3.85"/><circle cx="471.7" cy="206.9" r="3.85"/><circle cx="532.4" cy="146.9" r="3.85"/><circle cx="466.3" cy="209.9" r="3.85"/><circle cx="456.8" cy="218.5" r="3.85"/><circle cx="486.3" cy="189.5" r="3.85"/><circle cx="503.8" cy="176.3" r="3.85"/><circle cx="434.4" cy="246.3" r="3.85"/><circle cx="462.5" cy="210.0" r="3.85"/><circle cx="473.7" cy="210.9" r="3.85"/><circle cx="539.0" cy="145.4" r="3.85"/><circle cx="464.7" cy="201.0" r="3.85"/><circle cx="528.3" cy="147.5" r="3.85"/><circle cx="485.8" cy="188.0" r="3.85"/><circle cx="458.2" cy="212.2" r="3.85"/><circle cx="437.4" cy="223.4" r="3.85"/><circle cx="489.1" cy="194.7" r="3.85"/><circle cx="497.1" cy="175.2" r="3.85"/><circle cx="501.4" cy="168.3" r="3.85"/><circle cx="473.6" cy="208.8" r="3.85"/><circle cx="534.6" cy="148.2" r="3.85"/><circle cx="525.5" cy="156.9" r="3.85"/><circle cx="485.4" cy="193.4" r="3.85"/><circle cx="546.4" cy="143.9" r="3.85"/><circle cx="480.5" cy="200.7" r="3.85"/><circle cx="498.2" cy="177.5" r="3.85"/><circle cx="520.9" cy="167.6" r="3.85"/><circle cx="499.9" cy="188.4" r="3.85"/><circle cx="420.3" cy="248.0" r="3.85"/><circle cx="496.9" cy="178.3" r="3.85"/><circle cx="441.8" cy="233.5" r="3.85"/><circle cx="470.7" cy="199.4" r="3.85"/><circle cx="428.2" cy="251.0" r="3.85"/><circle cx="458.7" cy="206.6" r="3.85"/><circle cx="442.9" cy="223.2" r="3.85"/><circle cx="524.7" cy="150.9" r="3.85"/><circle cx="448.9" cy="214.7" r="3.85"/><circle cx="474.6" cy="194.8" r="3.85"/><circle cx="464.2" cy="215.0" r="3.85"/><circle cx="539.0" cy="152.3" r="3.85"/><circle cx="421.6" cy="244.3" r="3.85"/><circle cx="520.9" cy="151.0" r="3.85"/><circle cx="443.7" cy="227.5" r="3.85"/><circle cx="469.2" cy="211.0" r="3.85"/><circle cx="508.8" cy="170.6" r="3.85"/><circle cx="446.8" cy="219.4" r="3.85"/><circle cx="447.3" cy="215.5" r="3.85"/><circle cx="499.0" cy="172.6" r="3.85"/><circle cx="427.0" cy="208.5" r="3.85"/><circle cx="509.3" cy="182.1" r="3.85"/><circle cx="525.4" cy="180.1" r="3.85"/><circle cx="476.2" cy="177.9" r="3.85"/><circle cx="485.1" cy="179.4" r="3.85"/><circle cx="485.8" cy="185.3" r="3.85"/><circle cx="493.9" cy="176.5" r="3.85"/><circle cx="469.6" cy="189.7" r="3.85"/><circle cx="480.6" cy="188.2" r="3.85"/><circle cx="481.4" cy="193.4" r="3.85"/><circle cx="493.9" cy="188.2" r="3.85"/><circle cx="499.7" cy="193.4" r="3.85"/><circle cx="507.8" cy="193.8" r="3.85"/><circle cx="502.7" cy="197.8" r="3.85"/><circle cx="492.4" cy="197.0" r="3.85"/><circle cx="485.1" cy="197.0" r="3.85"/><circle cx="491.7" cy="202.2" r="3.85"/><circle cx="483.6" cy="205.8" r="3.85"/><circle cx="475.5" cy="196.3" r="3.85"/><circle cx="471.1" cy="199.2" r="3.85"/><circle cx="463.8" cy="197.0" r="3.85"/><circle cx="459.3" cy="198.5" r="3.85"/><circle cx="460.1" cy="204.4" r="3.85"/><circle cx="468.2" cy="205.8" r="3.85"/><circle cx="477.0" cy="202.2" r="3.85"/><circle cx="474.0" cy="208.8" r="3.85"/><circle cx="463.8" cy="211.0" r="3.85"/><circle cx="455.7" cy="208.0" r="3.85"/><circle cx="446.1" cy="203.6" r="3.85"/><circle cx="446.9" cy="211.0" r="3.85"/><circle cx="455.7" cy="214.7" r="3.85"/><circle cx="463.8" cy="217.6" r="3.85"/><circle cx="452.7" cy="221.3" r="3.85"/><circle cx="446.1" cy="222.7" r="3.85"/><circle cx="459.3" cy="227.9" r="3.85"/><circle cx="449.1" cy="227.9" r="3.85"/><circle cx="452.0" cy="236.7" r="3.85"/><circle cx="442.5" cy="236.7" r="3.85"/><circle cx="441.0" cy="228.6" r="3.85"/><circle cx="430.7" cy="223.5" r="3.85"/><circle cx="435.1" cy="241.1" r="3.85"/><circle cx="427.8" cy="244.0" r="3.85"/><circle cx="421.9" cy="238.9" r="3.85"/><circle cx="422.6" cy="247.0" r="3.85"/><circle cx="411.6" cy="239.6" r="3.85"/><circle cx="411.6" cy="244.0" r="3.85"/><circle cx="412.3" cy="249.9" r="3.85"/><circle cx="411.6" cy="258.0" r="3.85"/><circle cx="418.2" cy="251.4" r="3.85"/><circle cx="425.6" cy="251.4" r="3.85"/><circle cx="431.4" cy="245.5" r="3.85"/><circle cx="437.3" cy="236.7" r="3.85"/><circle cx="472.6" cy="177.9" r="3.85"/><circle cx="475.5" cy="189.7" r="3.85"/><circle cx="487.3" cy="191.2" r="3.85"/><circle cx="453.5" cy="202.2" r="3.85"/><circle cx="446.9" cy="217.6" r="3.85"/><circle cx="489.8" cy="111.0" r="3.85"/><circle cx="508.9" cy="115.4" r="3.85"/><circle cx="508.5" cy="128.2" r="3.85"/><circle cx="535.4" cy="122.8" r="3.85"/><circle cx="521.4" cy="100.0" r="3.85"/><circle cx="563.3" cy="100.7" r="3.85"/><circle cx="566.2" cy="109.5" r="3.85"/><circle cx="574.3" cy="111.8" r="3.85"/><circle cx="579.4" cy="114.7" r="3.85"/><circle cx="583.1" cy="105.9" r="3.85"/><circle cx="571.4" cy="116.2" r="3.85"/><circle cx="584.6" cy="121.3" r="3.85"/><circle cx="577.2" cy="128.6" r="3.85"/><circle cx="564.0" cy="123.5" r="3.85"/><circle cx="570.6" cy="126.4" r="3.85"/><circle cx="564.0" cy="129.4" r="3.85"/><circle cx="566.2" cy="133.0" r="3.85"/><circle cx="556.7" cy="131.6" r="3.85"/><circle cx="546.4" cy="133.0" r="3.85"/><circle cx="539.0" cy="133.0" r="3.85"/><circle cx="547.8" cy="139.7" r="3.85"/><circle cx="552.3" cy="145.5" r="3.85"/><circle cx="556.7" cy="153.6" r="3.85"/><circle cx="539.0" cy="149.2" r="3.85"/><circle cx="535.4" cy="145.5" r="3.85"/><circle cx="531.7" cy="144.1" r="3.85"/><circle cx="543.4" cy="147.0" r="3.85"/><circle cx="546.4" cy="156.6" r="3.85"/><circle cx="538.3" cy="156.6" r="3.85"/><circle cx="528.8" cy="158.0" r="3.85"/><circle cx="528.8" cy="167.6" r="3.85"/><circle cx="539.8" cy="166.1" r="3.85"/><circle cx="526.6" cy="164.6" r="3.85"/><circle cx="517.0" cy="163.9" r="3.85"/><circle cx="514.1" cy="155.1" r="3.85"/><circle cx="514.8" cy="147.7" r="3.85"/><circle cx="508.9" cy="158.8" r="3.85"/><circle cx="505.3" cy="161.7" r="3.85"/><circle cx="507.5" cy="172.7" r="3.85"/><circle cx="504.5" cy="169.0" r="3.85"/><circle cx="517.7" cy="169.0" r="3.85"/><circle cx="552.3" cy="172.0" r="3.85"/><circle cx="472.9" cy="141.9" r="3.85"/><circle cx="478.1" cy="151.4" r="3.85"/><circle cx="476.6" cy="160.2" r="3.85"/><circle cx="489.1" cy="161.7" r="3.85"/><circle cx="471.5" cy="170.5" r="3.85"/><circle cx="484.7" cy="173.4" r="3.85"/><circle cx="489.1" cy="174.9" r="3.85"/><circle cx="477.3" cy="183.7" r="3.85"/><circle cx="662.1" cy="27.9" r="3.85"/><circle cx="637.8" cy="55.2" r="3.85"/><circle cx="628.3" cy="66.6" r="3.85"/><circle cx="621.4" cy="68.0" r="3.85"/><circle cx="634.9" cy="65.1" r="3.85"/><circle cx="614.3" cy="75.4" r="3.85"/><circle cx="627.6" cy="79.0" r="3.85"/><circle cx="651.1" cy="71.7" r="3.85"/><circle cx="656.2" cy="74.6" r="3.85"/><circle cx="666.1" cy="55.5" r="3.85"/><circle cx="668.7" cy="59.9" r="3.85"/><circle cx="668.7" cy="65.8" r="3.85"/><circle cx="668.0" cy="71.0" r="3.85"/><circle cx="565.9" cy="63.6" r="3.85"/><circle cx="589.4" cy="79.0" r="3.85"/><circle cx="570.3" cy="87.8" r="3.85"/><circle cx="563.7" cy="98.1" r="3.85"/><circle cx="585.7" cy="95.9" r="3.85"/><circle cx="610.7" cy="92.3" r="3.85"/><circle cx="621.0" cy="96.7" r="3.85"/><circle cx="640.8" cy="97.4" r="3.85"/><circle cx="570.3" cy="90.7" r="3.85"/><circle cx="593.8" cy="123.8" r="3.85"/><circle cx="597.5" cy="101.8" r="3.85"/><circle cx="604.8" cy="107.6" r="3.85"/><circle cx="608.5" cy="110.6" r="3.85"/><circle cx="608.5" cy="101.0" r="3.85"/><circle cx="615.1" cy="101.0" r="3.85"/><circle cx="619.5" cy="100.3" r="3.85"/><circle cx="640.1" cy="101.0" r="3.85"/><circle cx="628.3" cy="114.2" r="3.85"/><circle cx="619.5" cy="121.6" r="3.85"/><circle cx="593.5" cy="146.6" r="3.85"/><circle cx="555.9" cy="83.5" r="3.85"/><circle cx="555.5" cy="93.1" r="3.85"/><circle cx="542.0" cy="95.6" r="3.85"/><circle cx="474.8" cy="183.1" r="3.85"/><circle cx="502.7" cy="170.9" r="3.85"/><circle cx="490.0" cy="196.3" r="3.85"/><circle cx="471.4" cy="208.1" r="3.85"/><circle cx="479.2" cy="209.0" r="3.85"/><circle cx="459.7" cy="219.3" r="3.85"/><circle cx="456.7" cy="210.0" r="3.85"/><circle cx="472.4" cy="182.6" r="3.85"/><circle cx="464.6" cy="192.4" r="3.85"/><circle cx="491.0" cy="191.4" r="3.85"/><circle cx="427.4" cy="239.6" r="3.85"/><circle cx="431.9" cy="234.2" r="3.85"/><circle cx="419.3" cy="245.0" r="3.85"/><circle cx="415.8" cy="256.6" r="3.85"/><circle cx="436.4" cy="231.5" r="3.85"/><circle cx="547.9" cy="147.2" r="3.85"/><circle cx="552.8" cy="168.7" r="3.85"/></g>
<g fill="#fff" stroke="#111" stroke-width="1.45"><circle cx="76.7" cy="483.0" r="3.85"/><circle cx="76.2" cy="398.2" r="3.85"/><circle cx="71.1" cy="431.5" r="3.85"/><circle cx="70.0" cy="402.8" r="3.85"/><circle cx="64.3" cy="433.6" r="3.85"/><circle cx="64.8" cy="434.6" r="3.85"/><circle cx="61.4" cy="398.4" r="3.85"/><circle cx="73.1" cy="431.3" r="3.85"/><circle cx="69.7" cy="462.0" r="3.85"/><circle cx="67.1" cy="395.6" r="3.85"/><circle cx="74.3" cy="447.7" r="3.85"/><circle cx="72.2" cy="450.9" r="3.85"/><circle cx="77.5" cy="425.6" r="3.85"/><circle cx="73.9" cy="426.1" r="3.85"/><circle cx="70.7" cy="454.7" r="3.85"/><circle cx="66.3" cy="398.4" r="3.85"/><circle cx="69.1" cy="460.4" r="3.85"/><circle cx="71.0" cy="433.9" r="3.85"/><circle cx="71.9" cy="407.8" r="3.85"/><circle cx="64.0" cy="421.7" r="3.85"/><circle cx="74.9" cy="409.2" r="3.85"/><circle cx="62.9" cy="399.7" r="3.85"/><circle cx="61.7" cy="417.0" r="3.85"/><circle cx="70.7" cy="470.4" r="3.85"/><circle cx="66.6" cy="426.2" r="3.85"/><circle cx="65.9" cy="419.9" r="3.85"/><circle cx="74.2" cy="443.8" r="3.85"/><circle cx="65.4" cy="400.5" r="3.85"/><circle cx="74.3" cy="459.3" r="3.85"/><circle cx="75.1" cy="413.3" r="3.85"/><circle cx="126.2" cy="480.6" r="3.85"/><circle cx="128.4" cy="482.4" r="3.85"/><circle cx="108.0" cy="484.4" r="3.85"/><circle cx="102.7" cy="447.5" r="3.85"/><circle cx="101.1" cy="473.4" r="3.85"/><circle cx="133.0" cy="484.3" r="3.85"/><circle cx="138.6" cy="482.6" r="3.85"/><circle cx="125.9" cy="485.2" r="3.85"/><circle cx="136.0" cy="442.8" r="3.85"/><circle cx="146.8" cy="444.9" r="3.85"/><circle cx="109.3" cy="425.0" r="3.85"/><circle cx="122.4" cy="433.0" r="3.85"/><circle cx="144.8" cy="482.7" r="3.85"/><circle cx="110.4" cy="426.8" r="3.85"/><circle cx="125.4" cy="431.2" r="3.85"/><circle cx="126.1" cy="473.6" r="3.85"/><circle cx="112.1" cy="447.8" r="3.85"/><circle cx="143.2" cy="449.3" r="3.85"/><circle cx="116.5" cy="478.9" r="3.85"/><circle cx="139.1" cy="479.1" r="3.85"/><circle cx="133.0" cy="447.2" r="3.85"/><circle cx="133.3" cy="474.8" r="3.85"/><circle cx="130.7" cy="435.7" r="3.85"/><circle cx="114.2" cy="447.0" r="3.85"/><circle cx="137.0" cy="456.8" r="3.85"/><circle cx="126.4" cy="474.6" r="3.85"/><circle cx="105.2" cy="461.7" r="3.85"/><circle cx="116.0" cy="456.9" r="3.85"/><circle cx="140.1" cy="436.4" r="3.85"/><circle cx="145.7" cy="425.2" r="3.85"/><circle cx="127.0" cy="455.8" r="3.85"/><circle cx="111.3" cy="457.0" r="3.85"/><circle cx="122.6" cy="449.7" r="3.85"/><circle cx="134.5" cy="420.3" r="3.85"/><circle cx="118.1" cy="471.8" r="3.85"/><circle cx="59.3" cy="392.0" r="3.85"/><circle cx="60.0" cy="394.4" r="3.85"/><circle cx="59.4" cy="396.6" r="3.85"/><circle cx="59.0" cy="399.0" r="3.85"/><circle cx="59.6" cy="401.3" r="3.85"/><circle cx="58.8" cy="403.9" r="3.85"/><circle cx="58.8" cy="406.0" r="3.85"/><circle cx="59.7" cy="408.6" r="3.85"/><circle cx="60.1" cy="410.5" r="3.85"/><circle cx="59.6" cy="413.2" r="3.85"/><circle cx="58.9" cy="415.7" r="3.85"/><circle cx="59.4" cy="417.5" r="3.85"/><circle cx="59.0" cy="419.3" r="3.85"/><circle cx="58.7" cy="421.4" r="3.85"/><circle cx="59.3" cy="423.6" r="3.85"/><circle cx="59.4" cy="426.3" r="3.85"/><circle cx="59.4" cy="428.7" r="3.85"/><circle cx="59.3" cy="431.2" r="3.85"/><circle cx="60.1" cy="433.3" r="3.85"/><circle cx="59.9" cy="436.1" r="3.85"/><circle cx="59.1" cy="438.6" r="3.85"/><circle cx="59.1" cy="440.6" r="3.85"/><circle cx="59.8" cy="442.5" r="3.85"/><circle cx="59.9" cy="444.7" r="3.85"/><circle cx="60.0" cy="446.8" r="3.85"/><circle cx="58.7" cy="449.5" r="3.85"/><circle cx="60.0" cy="451.5" r="3.85"/><circle cx="60.1" cy="453.8" r="3.85"/><circle cx="58.8" cy="456.0" r="3.85"/><circle cx="59.8" cy="458.4" r="3.85"/><circle cx="58.8" cy="460.5" r="3.85"/><circle cx="60.0" cy="462.6" r="3.85"/><circle cx="58.9" cy="465.2" r="3.85"/><circle cx="58.8" cy="467.2" r="3.85"/><circle cx="59.8" cy="469.1" r="3.85"/><circle cx="59.5" cy="471.0" r="3.85"/><circle cx="59.0" cy="473.3" r="3.85"/><circle cx="58.9" cy="475.8" r="3.85"/><circle cx="58.9" cy="478.3" r="3.85"/><circle cx="59.0" cy="480.5" r="3.85"/><circle cx="60.1" cy="482.6" r="3.85"/><circle cx="59.1" cy="485.2" r="3.85"/><circle cx="59.0" cy="487.8" r="3.85"/><circle cx="64.5" cy="398.0" r="3.85"/><circle cx="63.0" cy="401.2" r="3.85"/><circle cx="63.2" cy="404.8" r="3.85"/><circle cx="64.3" cy="407.6" r="3.85"/><circle cx="63.4" cy="410.4" r="3.85"/><circle cx="63.0" cy="413.0" r="3.85"/><circle cx="63.3" cy="416.2" r="3.85"/><circle cx="63.5" cy="419.3" r="3.85"/><circle cx="64.7" cy="422.3" r="3.85"/><circle cx="63.9" cy="425.4" r="3.85"/><circle cx="63.2" cy="428.8" r="3.85"/><circle cx="64.6" cy="431.5" r="3.85"/><circle cx="63.3" cy="434.9" r="3.85"/><circle cx="64.3" cy="437.6" r="3.85"/><circle cx="63.2" cy="441.1" r="3.85"/><circle cx="64.6" cy="444.7" r="3.85"/><circle cx="63.6" cy="447.8" r="3.85"/><circle cx="62.9" cy="450.4" r="3.85"/><circle cx="63.3" cy="454.0" r="3.85"/><circle cx="63.3" cy="457.3" r="3.85"/><circle cx="64.0" cy="460.7" r="3.85"/><circle cx="63.2" cy="463.5" r="3.85"/><circle cx="62.9" cy="466.8" r="3.85"/><circle cx="63.9" cy="469.5" r="3.85"/><circle cx="64.0" cy="473.0" r="3.85"/><circle cx="64.6" cy="475.8" r="3.85"/><circle cx="62.8" cy="478.5" r="3.85"/><circle cx="63.7" cy="481.3" r="3.85"/><circle cx="63.2" cy="483.9" r="3.85"/><circle cx="68.7" cy="405.0" r="3.85"/><circle cx="68.2" cy="408.7" r="3.85"/><circle cx="69.7" cy="413.5" r="3.85"/><circle cx="69.0" cy="418.0" r="3.85"/><circle cx="67.6" cy="422.4" r="3.85"/><circle cx="67.3" cy="425.9" r="3.85"/><circle cx="69.0" cy="430.8" r="3.85"/><circle cx="67.4" cy="435.8" r="3.85"/><circle cx="68.5" cy="440.2" r="3.85"/><circle cx="68.1" cy="444.8" r="3.85"/><circle cx="67.5" cy="449.8" r="3.85"/><circle cx="69.1" cy="454.1" r="3.85"/><circle cx="69.1" cy="459.0" r="3.85"/><circle cx="69.2" cy="463.5" r="3.85"/><circle cx="68.1" cy="468.4" r="3.85"/><circle cx="69.5" cy="472.9" r="3.85"/><circle cx="68.3" cy="477.7" r="3.85"/><circle cx="61.2" cy="316.6" r="3.85"/><circle cx="60.1" cy="318.8" r="3.85"/><circle cx="111.6" cy="316.6" r="3.85"/><circle cx="68.2" cy="331.3" r="3.85"/><circle cx="87.3" cy="335.0" r="3.85"/><circle cx="93.5" cy="330.6" r="3.85"/><circle cx="100.5" cy="326.9" r="3.85"/><circle cx="96.1" cy="343.5" r="3.85"/><circle cx="94.7" cy="351.9" r="3.85"/><circle cx="88.8" cy="356.3" r="3.85"/><circle cx="92.5" cy="357.0" r="3.85"/><circle cx="71.9" cy="359.9" r="3.85"/><circle cx="73.4" cy="363.6" r="3.85"/><circle cx="60.1" cy="363.6" r="3.85"/><circle cx="61.6" cy="368.8" r="3.85"/><circle cx="59.4" cy="373.9" r="3.85"/><circle cx="98.3" cy="364.3" r="3.85"/><circle cx="92.5" cy="371.0" r="3.85"/><circle cx="85.8" cy="377.6" r="3.85"/><circle cx="77.8" cy="379.8" r="3.85"/><circle cx="65.6" cy="381.2" r="3.85"/><circle cx="108.2" cy="380.2" r="3.85"/><circle cx="129.9" cy="380.5" r="3.85"/><circle cx="162.2" cy="333.5" r="3.85"/><circle cx="158.6" cy="373.9" r="3.85"/><circle cx="156.4" cy="382.0" r="3.85"/><circle cx="160.8" cy="384.2" r="3.85"/><circle cx="169.6" cy="386.4" r="3.85"/><circle cx="171.0" cy="368.0" r="3.85"/><circle cx="174.0" cy="376.8" r="3.85"/><circle cx="91.0" cy="386.1" r="3.85"/><circle cx="86.6" cy="393.0" r="3.85"/><circle cx="60.9" cy="390.8" r="3.85"/><circle cx="60.1" cy="394.5" r="3.85"/><circle cx="69.0" cy="394.5" r="3.85"/><circle cx="77.0" cy="398.1" r="3.85"/><circle cx="91.7" cy="398.1" r="3.85"/><circle cx="102.0" cy="395.2" r="3.85"/><circle cx="110.1" cy="397.4" r="3.85"/><circle cx="124.8" cy="398.1" r="3.85"/><circle cx="160.0" cy="395.2" r="3.85"/><circle cx="64.5" cy="400.9" r="3.85"/><circle cx="60.1" cy="407.5" r="3.85"/><circle cx="60.9" cy="414.1" r="3.85"/><circle cx="72.6" cy="403.8" r="3.85"/><circle cx="75.6" cy="412.6" r="3.85"/><circle cx="82.9" cy="409.0" r="3.85"/><circle cx="72.6" cy="421.4" r="3.85"/><circle cx="82.9" cy="422.9" r="3.85"/><circle cx="88.8" cy="425.8" r="3.85"/><circle cx="78.5" cy="430.3" r="3.85"/><circle cx="60.1" cy="429.5" r="3.85"/><circle cx="67.5" cy="429.5" r="3.85"/><circle cx="60.9" cy="439.8" r="3.85"/><circle cx="67.5" cy="438.3" r="3.85"/><circle cx="80.7" cy="436.9" r="3.85"/><circle cx="87.3" cy="434.7" r="3.85"/><circle cx="71.2" cy="444.9" r="3.85"/><circle cx="80.0" cy="445.7" r="3.85"/><circle cx="60.1" cy="450.8" r="3.85"/><circle cx="68.2" cy="450.8" r="3.85"/><circle cx="74.1" cy="455.2" r="3.85"/><circle cx="80.0" cy="458.2" r="3.85"/><circle cx="68.2" cy="459.6" r="3.85"/><circle cx="61.6" cy="464.0" r="3.85"/><circle cx="69.0" cy="464.0" r="3.85"/><circle cx="75.6" cy="468.4" r="3.85"/><circle cx="61.6" cy="472.8" r="3.85"/><circle cx="69.0" cy="472.8" r="3.85"/><circle cx="74.1" cy="477.3" r="3.85"/><circle cx="61.6" cy="480.2" r="3.85"/><circle cx="69.0" cy="481.7" r="3.85"/><circle cx="78.5" cy="481.7" r="3.85"/><circle cx="99.1" cy="406.8" r="3.85"/><circle cx="91.7" cy="406.8" r="3.85"/><circle cx="88.8" cy="414.1" r="3.85"/><circle cx="100.5" cy="414.8" r="3.85"/><circle cx="119.6" cy="406.0" r="3.85"/><circle cx="113.8" cy="415.6" r="3.85"/><circle cx="127.0" cy="414.1" r="3.85"/><circle cx="119.6" cy="418.5" r="3.85"/><circle cx="113.8" cy="424.4" r="3.85"/><circle cx="124.0" cy="428.0" r="3.85"/><circle cx="132.1" cy="429.5" r="3.85"/><circle cx="143.1" cy="431.0" r="3.85"/><circle cx="99.1" cy="431.0" r="3.85"/><circle cx="103.5" cy="437.6" r="3.85"/><circle cx="111.6" cy="431.7" r="3.85"/><circle cx="121.1" cy="434.7" r="3.85"/><circle cx="131.4" cy="437.6" r="3.85"/><circle cx="137.3" cy="436.1" r="3.85"/><circle cx="144.6" cy="423.6" r="3.85"/><circle cx="141.7" cy="411.9" r="3.85"/><circle cx="154.9" cy="418.5" r="3.85"/><circle cx="157.8" cy="401.6" r="3.85"/><circle cx="163.0" cy="412.6" r="3.85"/><circle cx="171.0" cy="417.8" r="3.85"/><circle cx="163.7" cy="429.5" r="3.85"/><circle cx="165.2" cy="436.1" r="3.85"/><circle cx="153.4" cy="439.1" r="3.85"/><circle cx="149.0" cy="436.1" r="3.85"/><circle cx="97.6" cy="439.1" r="3.85"/><circle cx="104.9" cy="443.5" r="3.85"/><circle cx="113.8" cy="444.9" r="3.85"/><circle cx="122.6" cy="442.0" r="3.85"/><circle cx="128.4" cy="447.9" r="3.85"/><circle cx="140.2" cy="450.1" r="3.85"/><circle cx="103.5" cy="451.6" r="3.85"/><circle cx="110.8" cy="456.7" r="3.85"/><circle cx="118.2" cy="453.8" r="3.85"/><circle cx="126.2" cy="458.2" r="3.85"/><circle cx="135.1" cy="456.0" r="3.85"/><circle cx="143.1" cy="458.2" r="3.85"/><circle cx="149.0" cy="453.8" r="3.85"/><circle cx="91.7" cy="464.0" r="3.85"/><circle cx="99.1" cy="461.1" r="3.85"/><circle cx="106.4" cy="464.0" r="3.85"/><circle cx="116.7" cy="462.6" r="3.85"/><circle cx="124.0" cy="465.5" r="3.85"/><circle cx="134.3" cy="464.0" r="3.85"/><circle cx="146.1" cy="464.0" r="3.85"/><circle cx="151.9" cy="467.0" r="3.85"/><circle cx="99.1" cy="471.4" r="3.85"/><circle cx="110.8" cy="474.3" r="3.85"/><circle cx="121.1" cy="471.4" r="3.85"/><circle cx="129.9" cy="468.4" r="3.85"/><circle cx="143.1" cy="471.4" r="3.85"/><circle cx="96.1" cy="480.2" r="3.85"/><circle cx="104.9" cy="481.7" r="3.85"/><circle cx="113.8" cy="481.7" r="3.85"/><circle cx="122.6" cy="478.7" r="3.85"/><circle cx="132.8" cy="477.3" r="3.85"/><circle cx="141.7" cy="480.2" r="3.85"/><circle cx="149.0" cy="481.7" r="3.85"/><circle cx="166.6" cy="461.1" r="3.85"/><circle cx="171.0" cy="461.1" r="3.85"/><circle cx="166.6" cy="471.4" r="3.85"/><circle cx="166.6" cy="478.7" r="3.85"/><circle cx="154.9" cy="483.1" r="3.85"/><circle cx="68.2" cy="470.7" r="3.85"/><circle cx="75.6" cy="470.7" r="3.85"/><circle cx="59.4" cy="477.3" r="3.85"/><circle cx="68.2" cy="476.6" r="3.85"/><circle cx="71.2" cy="481.8" r="3.85"/><circle cx="80.0" cy="484.0" r="3.85"/><circle cx="63.1" cy="490.6" r="3.85"/><circle cx="79.2" cy="500.1" r="3.85"/><circle cx="69.0" cy="512.6" r="3.85"/><circle cx="75.6" cy="510.4" r="3.85"/><circle cx="74.8" cy="515.5" r="3.85"/><circle cx="72.6" cy="517.0" r="3.85"/><circle cx="119.6" cy="481.0" r="3.85"/><circle cx="147.5" cy="478.8" r="3.85"/><circle cx="143.1" cy="484.7" r="3.85"/><circle cx="174.0" cy="484.0" r="3.85"/><circle cx="110.1" cy="484.0" r="3.85"/><circle cx="118.2" cy="487.6" r="3.85"/><circle cx="125.5" cy="486.9" r="3.85"/><circle cx="131.4" cy="486.2" r="3.85"/><circle cx="118.9" cy="497.9" r="3.85"/><circle cx="113.8" cy="508.2" r="3.85"/><circle cx="106.4" cy="478.8" r="3.85"/><circle cx="134.3" cy="471.5" r="3.85"/><circle cx="232.1" cy="318.8" r="3.85"/><circle cx="221.1" cy="332.5" r="3.85"/><circle cx="232.0" cy="336.1" r="3.85"/><circle cx="231.7" cy="341.6" r="3.85"/><circle cx="260.3" cy="344.5" r="3.85"/><circle cx="260.3" cy="352.6" r="3.85"/><circle cx="268.1" cy="359.2" r="3.85"/><circle cx="234.6" cy="357.0" r="3.85"/><circle cx="217.3" cy="359.2" r="3.85"/><circle cx="208.9" cy="378.3" r="3.85"/><circle cx="225.1" cy="376.8" r="3.85"/><circle cx="240.5" cy="381.2" r="3.85"/><circle cx="240.5" cy="390.1" r="3.85"/><circle cx="255.5" cy="385.6" r="3.85"/><circle cx="265.2" cy="376.8" r="3.85"/><circle cx="269.1" cy="383.4" r="3.85"/><circle cx="277.2" cy="382.0" r="3.85"/><circle cx="281.6" cy="385.6" r="3.85"/><circle cx="271.4" cy="388.6" r="3.85"/><circle cx="200.6" cy="387.8" r="3.85"/><circle cx="206.7" cy="390.1" r="3.85"/><circle cx="217.0" cy="390.8" r="3.85"/><circle cx="222.1" cy="395.2" r="3.85"/><circle cx="231.0" cy="394.9" r="3.85"/><circle cx="240.5" cy="398.1" r="3.85"/><circle cx="197.2" cy="397.4" r="3.85"/><circle cx="255.2" cy="396.7" r="3.85"/><circle cx="264.0" cy="398.9" r="3.85"/><circle cx="196.4" cy="406.0" r="3.85"/><circle cx="203.8" cy="411.2" r="3.85"/><circle cx="201.6" cy="414.8" r="3.85"/><circle cx="197.2" cy="417.8" r="3.85"/><circle cx="198.6" cy="425.1" r="3.85"/><circle cx="189.1" cy="415.6" r="3.85"/><circle cx="180.3" cy="407.5" r="3.85"/><circle cx="174.4" cy="411.9" r="3.85"/><circle cx="180.3" cy="416.3" r="3.85"/><circle cx="180.3" cy="422.9" r="3.85"/><circle cx="182.5" cy="427.3" r="3.85"/><circle cx="183.2" cy="431.7" r="3.85"/><circle cx="184.0" cy="439.1" r="3.85"/><circle cx="209.7" cy="424.4" r="3.85"/><circle cx="215.5" cy="417.0" r="3.85"/><circle cx="206.0" cy="432.5" r="3.85"/><circle cx="214.1" cy="433.9" r="3.85"/><circle cx="207.9" cy="444.2" r="3.85"/><circle cx="202.0" cy="450.1" r="3.85"/><circle cx="221.1" cy="447.9" r="3.85"/><circle cx="234.6" cy="453.0" r="3.85"/><circle cx="178.1" cy="454.5" r="3.85"/><circle cx="180.3" cy="456.0" r="3.85"/><circle cx="215.8" cy="470.2" r="3.85"/><circle cx="186.9" cy="476.5" r="3.85"/><circle cx="176.6" cy="483.1" r="3.85"/><circle cx="219.9" cy="400.9" r="3.85"/><circle cx="281.6" cy="402.3" r="3.85"/><circle cx="281.6" cy="405.3" r="3.85"/><circle cx="268.4" cy="412.6" r="3.85"/><circle cx="231.7" cy="412.6" r="3.85"/><circle cx="236.8" cy="413.4" r="3.85"/><circle cx="233.2" cy="417.0" r="3.85"/><circle cx="235.4" cy="421.4" r="3.85"/><circle cx="237.6" cy="425.8" r="3.85"/><circle cx="239.8" cy="429.5" r="3.85"/><circle cx="245.6" cy="426.6" r="3.85"/><circle cx="250.8" cy="431.7" r="3.85"/><circle cx="311.5" cy="325.4" r="3.85"/><circle cx="311.5" cy="405.0" r="3.85"/><circle cx="70.7" cy="413.3" r="3.85"/><circle cx="90.2" cy="424.0" r="3.85"/><circle cx="58.9" cy="422.1" r="3.85"/><circle cx="87.3" cy="427.9" r="3.85"/><circle cx="80.9" cy="453.6" r="3.85"/><circle cx="58.9" cy="469.2" r="3.85"/><circle cx="74.6" cy="463.4" r="3.85"/><circle cx="59.4" cy="482.9" r="3.85"/><circle cx="65.8" cy="484.9" r="3.85"/><circle cx="69.7" cy="486.9" r="3.85"/><circle cx="64.8" cy="459.5" r="3.85"/><circle cx="57.9" cy="457.5" r="3.85"/><circle cx="57.9" cy="444.8" r="3.85"/><circle cx="118.5" cy="441.0" r="3.85"/><circle cx="124.4" cy="439.6" r="3.85"/><circle cx="132.2" cy="468.9" r="3.85"/><circle cx="136.1" cy="474.8" r="3.85"/><circle cx="124.4" cy="476.8" r="3.85"/><circle cx="104.8" cy="476.8" r="3.85"/><circle cx="130.2" cy="461.1" r="3.85"/><circle cx="107.7" cy="446.4" r="3.85"/><circle cx="119.5" cy="448.4" r="3.85"/></g>
<g fill="#fff" stroke="#111" stroke-width="1.45"><circle cx="437.2" cy="472.3" r="3.85"/><circle cx="422.9" cy="487.8" r="3.85"/><circle cx="423.2" cy="455.7" r="3.85"/><circle cx="420.5" cy="464.3" r="3.85"/><circle cx="422.1" cy="459.2" r="3.85"/><circle cx="437.6" cy="465.1" r="3.85"/><circle cx="429.9" cy="474.8" r="3.85"/><circle cx="444.7" cy="401.3" r="3.85"/><circle cx="432.0" cy="483.9" r="3.85"/><circle cx="438.0" cy="433.5" r="3.85"/><circle cx="426.2" cy="483.4" r="3.85"/><circle cx="420.3" cy="464.5" r="3.85"/><circle cx="440.8" cy="405.5" r="3.85"/><circle cx="426.8" cy="419.9" r="3.85"/><circle cx="432.6" cy="426.0" r="3.85"/><circle cx="442.1" cy="480.6" r="3.85"/><circle cx="426.5" cy="477.7" r="3.85"/><circle cx="419.9" cy="399.5" r="3.85"/><circle cx="436.0" cy="468.3" r="3.85"/><circle cx="440.1" cy="487.2" r="3.85"/><circle cx="441.2" cy="416.1" r="3.85"/><circle cx="438.1" cy="480.6" r="3.85"/><circle cx="420.5" cy="438.5" r="3.85"/><circle cx="422.2" cy="404.0" r="3.85"/><circle cx="430.9" cy="455.7" r="3.85"/><circle cx="444.3" cy="402.9" r="3.85"/><circle cx="431.6" cy="487.7" r="3.85"/><circle cx="438.7" cy="442.1" r="3.85"/><circle cx="424.6" cy="451.8" r="3.85"/><circle cx="425.0" cy="453.1" r="3.85"/><circle cx="435.5" cy="428.3" r="3.85"/><circle cx="439.5" cy="429.5" r="3.85"/><circle cx="430.7" cy="471.5" r="3.85"/><circle cx="424.8" cy="408.2" r="3.85"/><circle cx="433.5" cy="432.6" r="3.85"/><circle cx="506.6" cy="418.7" r="3.85"/><circle cx="472.9" cy="404.3" r="3.85"/><circle cx="478.2" cy="423.4" r="3.85"/><circle cx="478.1" cy="457.3" r="3.85"/><circle cx="450.5" cy="474.2" r="3.85"/><circle cx="495.7" cy="460.8" r="3.85"/><circle cx="484.1" cy="443.2" r="3.85"/><circle cx="475.4" cy="429.7" r="3.85"/><circle cx="462.8" cy="422.7" r="3.85"/><circle cx="467.7" cy="425.2" r="3.85"/><circle cx="508.8" cy="459.9" r="3.85"/><circle cx="491.0" cy="401.3" r="3.85"/><circle cx="465.6" cy="440.7" r="3.85"/><circle cx="494.4" cy="431.4" r="3.85"/><circle cx="490.4" cy="467.9" r="3.85"/><circle cx="465.9" cy="428.7" r="3.85"/><circle cx="498.9" cy="423.9" r="3.85"/><circle cx="496.3" cy="429.8" r="3.85"/><circle cx="449.3" cy="434.7" r="3.85"/><circle cx="452.6" cy="458.9" r="3.85"/><circle cx="504.6" cy="439.7" r="3.85"/><circle cx="508.3" cy="416.0" r="3.85"/><circle cx="477.9" cy="413.2" r="3.85"/><circle cx="451.3" cy="461.8" r="3.85"/><circle cx="451.5" cy="470.1" r="3.85"/><circle cx="485.3" cy="452.6" r="3.85"/><circle cx="451.3" cy="468.0" r="3.85"/><circle cx="501.2" cy="407.8" r="3.85"/><circle cx="460.3" cy="410.6" r="3.85"/><circle cx="481.8" cy="405.9" r="3.85"/><circle cx="501.5" cy="437.2" r="3.85"/><circle cx="495.2" cy="419.1" r="3.85"/><circle cx="491.8" cy="434.0" r="3.85"/><circle cx="491.4" cy="430.8" r="3.85"/><circle cx="514.3" cy="463.5" r="3.85"/><circle cx="503.8" cy="425.6" r="3.85"/><circle cx="460.8" cy="411.5" r="3.85"/><circle cx="456.8" cy="472.6" r="3.85"/><circle cx="466.9" cy="465.3" r="3.85"/><circle cx="463.6" cy="446.5" r="3.85"/><circle cx="464.7" cy="423.0" r="3.85"/><circle cx="498.1" cy="445.6" r="3.85"/><circle cx="511.4" cy="417.8" r="3.85"/><circle cx="466.1" cy="404.7" r="3.85"/><circle cx="462.3" cy="473.5" r="3.85"/><circle cx="485.8" cy="435.7" r="3.85"/><circle cx="470.8" cy="457.0" r="3.85"/><circle cx="494.2" cy="411.7" r="3.85"/><circle cx="451.1" cy="413.0" r="3.85"/><circle cx="502.7" cy="455.0" r="3.85"/><circle cx="414.8" cy="400.0" r="3.85"/><circle cx="415.4" cy="402.7" r="3.85"/><circle cx="414.7" cy="405.5" r="3.85"/><circle cx="414.6" cy="407.8" r="3.85"/><circle cx="415.4" cy="410.0" r="3.85"/><circle cx="415.1" cy="412.1" r="3.85"/><circle cx="414.8" cy="414.3" r="3.85"/><circle cx="415.6" cy="416.8" r="3.85"/><circle cx="414.4" cy="419.4" r="3.85"/><circle cx="414.6" cy="421.7" r="3.85"/><circle cx="415.5" cy="424.5" r="3.85"/><circle cx="415.6" cy="427.3" r="3.85"/><circle cx="415.7" cy="430.1" r="3.85"/><circle cx="414.8" cy="432.9" r="3.85"/><circle cx="415.1" cy="435.7" r="3.85"/><circle cx="415.2" cy="438.5" r="3.85"/><circle cx="414.9" cy="440.9" r="3.85"/><circle cx="414.8" cy="443.3" r="3.85"/><circle cx="415.5" cy="445.4" r="3.85"/><circle cx="415.8" cy="448.2" r="3.85"/><circle cx="415.2" cy="450.9" r="3.85"/><circle cx="414.6" cy="453.7" r="3.85"/><circle cx="415.0" cy="456.4" r="3.85"/><circle cx="414.7" cy="458.5" r="3.85"/><circle cx="414.8" cy="461.1" r="3.85"/><circle cx="415.2" cy="463.5" r="3.85"/><circle cx="414.6" cy="465.9" r="3.85"/><circle cx="414.7" cy="468.4" r="3.85"/><circle cx="414.7" cy="470.6" r="3.85"/><circle cx="414.5" cy="473.0" r="3.85"/><circle cx="415.7" cy="475.7" r="3.85"/><circle cx="415.4" cy="478.1" r="3.85"/><circle cx="418.6" cy="405.0" r="3.85"/><circle cx="420.1" cy="408.2" r="3.85"/><circle cx="419.8" cy="412.2" r="3.85"/><circle cx="419.3" cy="415.4" r="3.85"/><circle cx="420.3" cy="419.4" r="3.85"/><circle cx="418.9" cy="423.4" r="3.85"/><circle cx="419.2" cy="427.4" r="3.85"/><circle cx="418.8" cy="431.3" r="3.85"/><circle cx="419.7" cy="435.4" r="3.85"/><circle cx="418.9" cy="439.3" r="3.85"/><circle cx="419.7" cy="443.0" r="3.85"/><circle cx="419.2" cy="446.7" r="3.85"/><circle cx="419.2" cy="450.6" r="3.85"/><circle cx="418.8" cy="454.0" r="3.85"/><circle cx="418.7" cy="457.8" r="3.85"/><circle cx="418.6" cy="461.1" r="3.85"/><circle cx="419.6" cy="464.8" r="3.85"/><circle cx="418.6" cy="468.5" r="3.85"/><circle cx="419.2" cy="472.0" r="3.85"/><circle cx="439.1" cy="331.0" r="3.85"/><circle cx="442.0" cy="358.5" r="3.85"/><circle cx="508.4" cy="362.1" r="3.85"/><circle cx="415.6" cy="363.6" r="3.85"/><circle cx="415.6" cy="373.9" r="3.85"/><circle cx="415.6" cy="379.0" r="3.85"/><circle cx="422.9" cy="379.8" r="3.85"/><circle cx="415.9" cy="386.1" r="3.85"/><circle cx="431.7" cy="374.6" r="3.85"/><circle cx="444.1" cy="373.2" r="3.85"/><circle cx="447.9" cy="373.2" r="3.85"/><circle cx="437.9" cy="389.8" r="3.85"/><circle cx="479.8" cy="379.8" r="3.85"/><circle cx="484.2" cy="382.0" r="3.85"/><circle cx="498.9" cy="384.6" r="3.85"/><circle cx="424.7" cy="398.1" r="3.85"/><circle cx="434.2" cy="396.7" r="3.85"/><circle cx="455.5" cy="398.1" r="3.85"/><circle cx="471.7" cy="396.4" r="3.85"/><circle cx="476.8" cy="395.2" r="3.85"/><circle cx="484.9" cy="399.6" r="3.85"/><circle cx="513.6" cy="395.9" r="3.85"/><circle cx="527.5" cy="396.7" r="3.85"/><circle cx="415.9" cy="403.1" r="3.85"/><circle cx="424.0" cy="405.3" r="3.85"/><circle cx="417.3" cy="414.1" r="3.85"/><circle cx="424.7" cy="414.1" r="3.85"/><circle cx="433.5" cy="411.2" r="3.85"/><circle cx="415.9" cy="422.2" r="3.85"/><circle cx="423.2" cy="427.3" r="3.85"/><circle cx="430.6" cy="425.8" r="3.85"/><circle cx="437.2" cy="426.6" r="3.85"/><circle cx="415.9" cy="430.3" r="3.85"/><circle cx="415.9" cy="439.1" r="3.85"/><circle cx="426.2" cy="436.1" r="3.85"/><circle cx="434.2" cy="439.1" r="3.85"/><circle cx="443.8" cy="435.4" r="3.85"/><circle cx="423.2" cy="444.9" r="3.85"/><circle cx="432.0" cy="445.7" r="3.85"/><circle cx="415.9" cy="449.3" r="3.85"/><circle cx="426.2" cy="450.8" r="3.85"/><circle cx="435.0" cy="458.2" r="3.85"/><circle cx="415.9" cy="458.2" r="3.85"/><circle cx="427.6" cy="465.5" r="3.85"/><circle cx="415.9" cy="467.0" r="3.85"/><circle cx="436.4" cy="467.0" r="3.85"/><circle cx="415.9" cy="475.1" r="3.85"/><circle cx="424.7" cy="471.4" r="3.85"/><circle cx="443.8" cy="461.1" r="3.85"/><circle cx="441.6" cy="447.9" r="3.85"/><circle cx="442.3" cy="406.8" r="3.85"/><circle cx="446.0" cy="413.4" r="3.85"/><circle cx="450.4" cy="403.8" r="3.85"/><circle cx="457.0" cy="400.1" r="3.85"/><circle cx="445.3" cy="426.6" r="3.85"/><circle cx="440.8" cy="422.2" r="3.85"/><circle cx="435.0" cy="431.7" r="3.85"/><circle cx="418.8" cy="483.1" r="3.85"/><circle cx="435.0" cy="481.7" r="3.85"/><circle cx="446.0" cy="480.9" r="3.85"/><circle cx="465.8" cy="409.0" r="3.85"/><circle cx="482.0" cy="408.2" r="3.85"/><circle cx="496.7" cy="410.4" r="3.85"/><circle cx="458.5" cy="415.6" r="3.85"/><circle cx="466.6" cy="418.5" r="3.85"/><circle cx="452.6" cy="418.5" r="3.85"/><circle cx="479.0" cy="414.1" r="3.85"/><circle cx="458.5" cy="423.6" r="3.85"/><circle cx="471.7" cy="428.8" r="3.85"/><circle cx="462.9" cy="428.0" r="3.85"/><circle cx="482.0" cy="422.2" r="3.85"/><circle cx="490.8" cy="425.1" r="3.85"/><circle cx="454.1" cy="433.9" r="3.85"/><circle cx="466.6" cy="435.4" r="3.85"/><circle cx="477.6" cy="434.7" r="3.85"/><circle cx="489.3" cy="428.0" r="3.85"/><circle cx="484.9" cy="439.8" r="3.85"/><circle cx="471.7" cy="442.7" r="3.85"/><circle cx="461.4" cy="444.2" r="3.85"/><circle cx="493.7" cy="442.7" r="3.85"/><circle cx="452.6" cy="450.1" r="3.85"/><circle cx="461.4" cy="450.1" r="3.85"/><circle cx="477.6" cy="450.1" r="3.85"/><circle cx="487.8" cy="453.8" r="3.85"/><circle cx="495.2" cy="450.8" r="3.85"/><circle cx="499.6" cy="456.7" r="3.85"/><circle cx="457.0" cy="460.4" r="3.85"/><circle cx="465.1" cy="459.6" r="3.85"/><circle cx="471.7" cy="464.0" r="3.85"/><circle cx="482.0" cy="459.6" r="3.85"/><circle cx="492.3" cy="461.1" r="3.85"/><circle cx="501.1" cy="461.1" r="3.85"/><circle cx="505.5" cy="464.0" r="3.85"/><circle cx="457.0" cy="467.7" r="3.85"/><circle cx="468.8" cy="469.9" r="3.85"/><circle cx="479.0" cy="468.4" r="3.85"/><circle cx="487.8" cy="471.4" r="3.85"/><circle cx="498.1" cy="474.3" r="3.85"/><circle cx="504.0" cy="471.4" r="3.85"/><circle cx="474.6" cy="477.3" r="3.85"/><circle cx="480.5" cy="480.2" r="3.85"/><circle cx="489.3" cy="478.7" r="3.85"/><circle cx="498.1" cy="480.2" r="3.85"/><circle cx="511.4" cy="409.7" r="3.85"/><circle cx="515.8" cy="414.1" r="3.85"/><circle cx="525.3" cy="407.5" r="3.85"/><circle cx="524.6" cy="416.3" r="3.85"/><circle cx="515.8" cy="422.2" r="3.85"/><circle cx="511.4" cy="426.6" r="3.85"/><circle cx="522.4" cy="428.0" r="3.85"/><circle cx="506.9" cy="433.9" r="3.85"/><circle cx="517.2" cy="435.4" r="3.85"/><circle cx="508.4" cy="442.0" r="3.85"/><circle cx="523.1" cy="444.9" r="3.85"/><circle cx="517.2" cy="453.8" r="3.85"/><circle cx="526.0" cy="452.3" r="3.85"/><circle cx="518.7" cy="480.2" r="3.85"/><circle cx="518.7" cy="399.4" r="3.85"/><circle cx="418.1" cy="481.0" r="3.85"/><circle cx="424.7" cy="484.0" r="3.85"/><circle cx="428.4" cy="489.8" r="3.85"/><circle cx="465.8" cy="487.3" r="3.85"/><circle cx="415.9" cy="495.7" r="3.85"/><circle cx="418.1" cy="500.8" r="3.85"/><circle cx="433.5" cy="505.0" r="3.85"/><circle cx="428.8" cy="509.4" r="3.85"/><circle cx="452.6" cy="516.7" r="3.85"/><circle cx="473.9" cy="503.0" r="3.85"/><circle cx="429.1" cy="523.6" r="3.85"/><circle cx="435.7" cy="525.8" r="3.85"/><circle cx="417.1" cy="532.4" r="3.85"/><circle cx="427.9" cy="533.2" r="3.85"/><circle cx="415.9" cy="550.1" r="3.85"/><circle cx="468.5" cy="550.5" r="3.85"/><circle cx="509.6" cy="500.1" r="3.85"/><circle cx="520.5" cy="499.1" r="3.85"/><circle cx="528.7" cy="505.0" r="3.85"/><circle cx="471.7" cy="474.4" r="3.85"/><circle cx="489.3" cy="475.1" r="3.85"/><circle cx="498.1" cy="476.6" r="3.85"/><circle cx="501.8" cy="480.3" r="3.85"/><circle cx="474.6" cy="480.3" r="3.85"/><circle cx="427.6" cy="470.7" r="3.85"/><circle cx="535.0" cy="362.2" r="3.85"/><circle cx="561.4" cy="377.3" r="3.85"/><circle cx="570.2" cy="380.3" r="3.85"/><circle cx="583.8" cy="386.4" r="3.85"/><circle cx="587.4" cy="390.1" r="3.85"/><circle cx="559.5" cy="401.9" r="3.85"/><circle cx="573.5" cy="404.1" r="3.85"/><circle cx="585.2" cy="406.3" r="3.85"/><circle cx="588.9" cy="409.2" r="3.85"/><circle cx="577.1" cy="411.4" r="3.85"/><circle cx="584.5" cy="415.8" r="3.85"/><circle cx="592.6" cy="419.5" r="3.85"/><circle cx="592.6" cy="423.2" r="3.85"/><circle cx="583.0" cy="424.6" r="3.85"/><circle cx="554.4" cy="412.9" r="3.85"/><circle cx="562.5" cy="414.3" r="3.85"/><circle cx="550.0" cy="419.5" r="3.85"/><circle cx="556.6" cy="421.7" r="3.85"/><circle cx="552.9" cy="426.1" r="3.85"/><circle cx="566.9" cy="421.0" r="3.85"/><circle cx="569.1" cy="428.3" r="3.85"/><circle cx="533.1" cy="420.2" r="3.85"/><circle cx="536.8" cy="417.3" r="3.85"/><circle cx="531.6" cy="426.8" r="3.85"/><circle cx="541.9" cy="430.5" r="3.85"/><circle cx="550.7" cy="432.0" r="3.85"/><circle cx="558.8" cy="432.0" r="3.85"/><circle cx="535.3" cy="436.4" r="3.85"/><circle cx="536.8" cy="443.7" r="3.85"/><circle cx="549.2" cy="441.5" r="3.85"/><circle cx="549.2" cy="448.1" r="3.85"/><circle cx="573.5" cy="435.6" r="3.85"/><circle cx="579.3" cy="433.4" r="3.85"/><circle cx="584.5" cy="437.1" r="3.85"/><circle cx="588.9" cy="441.5" r="3.85"/><circle cx="574.2" cy="445.2" r="3.85"/><circle cx="607.3" cy="421.7" r="3.85"/><circle cx="612.4" cy="404.1" r="3.85"/><circle cx="616.8" cy="398.9" r="3.85"/><circle cx="621.9" cy="404.1" r="3.85"/><circle cx="628.6" cy="409.9" r="3.85"/><circle cx="632.2" cy="415.1" r="3.85"/><circle cx="615.3" cy="411.4" r="3.85"/><circle cx="611.7" cy="436.4" r="3.85"/><circle cx="619.0" cy="437.1" r="3.85"/><circle cx="621.9" cy="429.0" r="3.85"/><circle cx="633.0" cy="434.9" r="3.85"/><circle cx="533.8" cy="460.4" r="3.85"/><circle cx="560.7" cy="463.4" r="3.85"/><circle cx="586.4" cy="459.0" r="3.85"/><circle cx="597.4" cy="460.9" r="3.85"/><circle cx="607.3" cy="452.3" r="3.85"/><circle cx="592.3" cy="470.0" r="3.85"/><circle cx="602.8" cy="476.1" r="3.85"/><circle cx="589.6" cy="480.3" r="3.85"/><circle cx="624.1" cy="481.4" r="3.85"/><circle cx="555.1" cy="488.3" r="3.85"/><circle cx="568.6" cy="496.9" r="3.85"/><circle cx="587.1" cy="496.4" r="3.85"/><circle cx="540.4" cy="519.9" r="3.85"/><circle cx="573.5" cy="518.7" r="3.85"/><circle cx="661.7" cy="419.3" r="3.85"/><circle cx="662.4" cy="439.5" r="3.85"/><circle cx="430.5" cy="402.7" r="3.85"/><circle cx="447.7" cy="403.7" r="3.85"/><circle cx="415.4" cy="409.6" r="3.85"/><circle cx="415.4" cy="415.4" r="3.85"/><circle cx="429.6" cy="420.3" r="3.85"/><circle cx="439.4" cy="420.3" r="3.85"/><circle cx="447.2" cy="421.3" r="3.85"/><circle cx="447.7" cy="429.1" r="3.85"/><circle cx="421.7" cy="432.1" r="3.85"/><circle cx="422.7" cy="440.9" r="3.85"/><circle cx="432.5" cy="442.8" r="3.85"/><circle cx="440.3" cy="439.9" r="3.85"/><circle cx="447.7" cy="438.9" r="3.85"/><circle cx="415.9" cy="445.8" r="3.85"/><circle cx="425.7" cy="447.7" r="3.85"/><circle cx="436.4" cy="446.8" r="3.85"/><circle cx="444.2" cy="445.8" r="3.85"/><circle cx="432.5" cy="436.0" r="3.85"/><circle cx="419.8" cy="419.4" r="3.85"/><circle cx="424.7" cy="411.5" r="3.85"/><circle cx="432.5" cy="447.9" r="3.85"/><circle cx="415.9" cy="452.3" r="3.85"/><circle cx="422.7" cy="459.7" r="3.85"/><circle cx="446.2" cy="453.3" r="3.85"/><circle cx="432.5" cy="453.8" r="3.85"/><circle cx="421.7" cy="454.8" r="3.85"/><circle cx="487.1" cy="419.0" r="3.85"/><circle cx="478.3" cy="427.3" r="3.85"/><circle cx="487.1" cy="436.1" r="3.85"/><circle cx="446.5" cy="436.1" r="3.85"/><circle cx="452.8" cy="441.0" r="3.85"/><circle cx="447.0" cy="443.9" r="3.85"/><circle cx="470.4" cy="451.8" r="3.85"/><circle cx="487.1" cy="449.8" r="3.85"/><circle cx="464.6" cy="442.0" r="3.85"/><circle cx="499.8" cy="450.8" r="3.85"/><circle cx="481.2" cy="467.5" r="3.85"/><circle cx="495.9" cy="475.3" r="3.85"/><circle cx="501.8" cy="471.4" r="3.85"/><circle cx="466.5" cy="469.5" r="3.85"/><circle cx="476.3" cy="455.8" r="3.85"/><circle cx="495.9" cy="462.6" r="3.85"/><circle cx="485.1" cy="472.4" r="3.85"/></g>
<text x="84.10" y="29.50" font-size="25.6" text-anchor="start" font-weight="bold" fill="#000" textLength="17.3" lengthAdjust="spacingAndGlyphs" stroke="#000" stroke-width="0.45" stroke-linejoin="round">A</text>
<text x="435.70" y="33.60" font-size="25.6" text-anchor="start" font-weight="bold" fill="#000" textLength="13.7" lengthAdjust="spacingAndGlyphs" stroke="#000" stroke-width="0.45" stroke-linejoin="round">B</text>
<text x="796.50" y="32.60" font-size="25.6" text-anchor="start" font-weight="bold" fill="#000" textLength="14.3" lengthAdjust="spacingAndGlyphs" stroke="#000" stroke-width="0.45" stroke-linejoin="round">C</text>
<text x="14.40" y="342.50" font-size="25.6" text-anchor="start" font-weight="bold" fill="#000" textLength="15.2" lengthAdjust="spacingAndGlyphs" stroke="#000" stroke-width="0.45" stroke-linejoin="round">D</text>
<text x="364.80" y="346.50" font-size="25.6" text-anchor="start" font-weight="bold" fill="#000" textLength="11.3" lengthAdjust="spacingAndGlyphs" stroke="#000" stroke-width="0.45" stroke-linejoin="round">E</text>
<text x="796.40" y="341.70" font-size="25.6" text-anchor="start" font-weight="bold" fill="#000" textLength="10.4" lengthAdjust="spacingAndGlyphs" stroke="#000" stroke-width="0.45" stroke-linejoin="round">F</text>
</svg></body></html>
